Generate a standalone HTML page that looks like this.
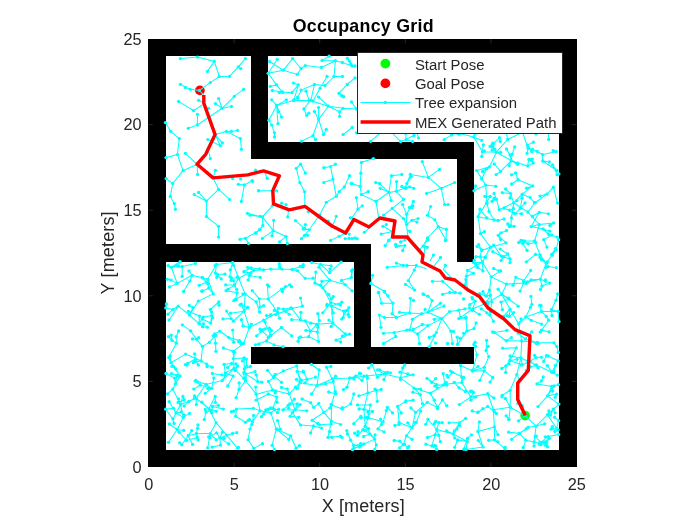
<!DOCTYPE html>
<html><head><meta charset="utf-8"><title>Occupancy Grid</title>
<style>html,body{margin:0;padding:0;background:#fff}svg{display:block;will-change:transform}text{font-family:"Liberation Sans",Arial,sans-serif;fill:#262626}</style>
</head><body>
<svg width="700" height="525" viewBox="0 0 700 525">
<rect width="700" height="525" fill="#fff"/>
<g fill="#000" shape-rendering="crispEdges">
<rect x="148" y="450" width="429" height="17"/>
<rect x="148" y="39" width="429" height="17"/>
<rect x="148" y="39" width="18" height="428"/>
<rect x="559" y="39" width="18" height="428"/>
<rect x="251" y="56" width="17" height="103"/>
<rect x="251" y="142" width="223" height="17"/>
<rect x="457" y="142" width="17" height="120"/>
<rect x="166" y="244" width="205" height="18"/>
<rect x="354" y="244" width="17" height="120"/>
<rect x="251" y="347" width="223" height="17"/>
</g>
<g stroke="#262626" stroke-width="1">
<line x1="234.10" y1="467.00" x2="234.10" y2="462.70"/>
<line x1="234.10" y1="39.00" x2="234.10" y2="43.30"/>
<line x1="148.50" y1="381.40" x2="152.80" y2="381.40"/>
<line x1="576.50" y1="381.40" x2="572.20" y2="381.40"/>
<line x1="319.70" y1="467.00" x2="319.70" y2="462.70"/>
<line x1="319.70" y1="39.00" x2="319.70" y2="43.30"/>
<line x1="148.50" y1="295.80" x2="152.80" y2="295.80"/>
<line x1="576.50" y1="295.80" x2="572.20" y2="295.80"/>
<line x1="405.30" y1="467.00" x2="405.30" y2="462.70"/>
<line x1="405.30" y1="39.00" x2="405.30" y2="43.30"/>
<line x1="148.50" y1="210.20" x2="152.80" y2="210.20"/>
<line x1="576.50" y1="210.20" x2="572.20" y2="210.20"/>
<line x1="490.90" y1="467.00" x2="490.90" y2="462.70"/>
<line x1="490.90" y1="39.00" x2="490.90" y2="43.30"/>
<line x1="148.50" y1="124.60" x2="152.80" y2="124.60"/>
<line x1="576.50" y1="124.60" x2="572.20" y2="124.60"/>
</g>
<circle cx="525.1" cy="415.6" r="4.85" fill="#00ff00"/>
<circle cx="199.9" cy="90.4" r="4.85" fill="#ff0000"/>
<path d="M525.1 415.6L510.3 407.2M510.3 407.2L493.4 409.8M493.4 409.8L487.7 393.7M487.7 393.7L470.9 397.0M493.4 409.8L494.4 426.9M470.9 397.0L461.8 382.6M461.8 382.6L460.6 365.5M525.1 415.6L536.1 426.1M461.8 382.6L444.8 384.2M444.8 384.2L430.4 393.2M430.4 393.2L414.1 388.2M414.1 388.2L400.5 377.8M400.5 377.8L383.8 374.1M383.8 374.1L366.8 375.9M494.4 426.9L477.9 431.5M510.3 407.2L510.2 390.3M366.8 375.9L349.8 377.9M349.8 377.9L332.7 378.8M510.2 390.3L516.8 374.6M332.7 378.8L317.0 385.5M317.0 385.5L300.1 382.7M516.8 374.6L520.8 358.0M300.1 382.7L296.7 365.9M536.1 426.1L547.4 414.9M300.1 382.7L289.2 393.9M520.8 358.0L521.7 340.9M521.7 340.9L518.7 324.0M289.2 393.9L272.7 390.0M518.7 324.0L510.1 309.2M510.1 309.2L501.7 294.3M501.7 294.3L506.6 284.2M506.6 284.2L491.2 276.9M491.2 276.9L482.4 262.2M536.1 426.1L534.1 442.0M272.7 390.0L256.2 394.2M482.4 262.2L490.5 247.2M490.5 247.2L480.5 233.6M256.2 394.2L245.6 380.7M525.1 415.6L522.2 405.6M506.6 284.2L523.7 283.0M534.1 442.0L534.0 446.1M480.5 233.6L478.1 216.7M289.2 393.9L295.0 409.8M482.4 262.2L467.5 270.4M366.8 375.9L367.8 393.0M478.1 216.7L486.9 202.0M534.1 442.0L525.8 440.2M486.9 202.0L485.7 185.1M295.0 409.8L283.0 409.9M245.6 380.7L234.0 368.4M234.0 368.4L222.3 380.5M234.0 368.4L233.2 351.3M245.6 380.7L246.0 374.1M233.2 351.3L243.6 343.5M501.7 294.3L487.9 302.6M243.6 343.5L249.4 327.5M249.4 327.5L244.1 311.2M234.0 368.4L235.0 369.8M244.1 311.2L245.2 294.1M485.7 185.1L476.7 170.6M296.7 365.9L283.3 371.0M245.2 294.1L238.7 278.3M234.0 368.4L225.3 373.0M238.7 278.3L232.6 262.5M256.2 394.2L260.1 410.8M476.7 170.6L489.4 166.9M523.7 283.0L540.3 279.2M232.6 262.5L216.4 264.5M489.4 166.9L496.5 152.2M216.4 264.5L207.8 279.3M486.9 202.0L490.3 196.4M496.5 152.2L507.6 139.5M238.7 278.3L253.7 270.5M260.1 410.8L270.9 413.1M270.9 413.1L276.3 429.1M496.5 152.2L482.4 151.8M238.7 278.3L234.5 285.1M540.3 279.2L546.2 263.3M490.5 247.2L506.0 242.9M518.7 324.0L525.8 317.0M222.3 380.5L206.1 384.4M206.1 384.4L196.1 398.2M207.8 279.3L213.3 293.9M332.7 378.8L335.3 391.4M276.3 429.1L288.8 439.4M196.1 398.2L208.9 408.8M547.4 414.9L556.8 428.5M196.1 398.2L180.5 404.4M367.8 393.0L363.9 409.3M363.9 409.3L365.2 426.4M335.3 391.4L331.4 405.0M208.9 408.8L216.1 422.7M482.4 151.8L473.8 137.0M180.5 404.4L172.9 419.0M430.4 393.2L437.6 407.5M520.8 358.0L522.3 364.8M477.9 431.5L483.1 447.1M507.6 139.5L522.4 132.2M473.8 137.0L457.2 133.1M213.3 293.9L198.3 301.1M260.1 410.8L252.5 421.8M520.8 358.0L536.4 365.0M249.4 327.5L263.6 320.2M260.1 410.8L253.3 408.3M522.4 132.2L528.2 148.2M521.7 340.9L506.2 340.8M349.8 377.9L347.0 387.2M496.5 152.2L491.7 146.0M457.2 133.1L444.1 122.6M216.1 422.7L226.6 435.2M444.1 122.6L428.3 116.1M522.4 132.2L535.4 121.0M428.3 116.1L430.8 99.6M245.2 294.1L242.9 294.1M283.3 371.0L274.2 376.1M180.5 404.4L183.3 417.4M428.3 116.1L414.5 125.8M483.1 447.1L466.1 449.4M460.6 365.5L472.5 371.0M414.5 125.8L401.5 114.8M295.0 409.8L300.1 404.6M367.8 393.0L376.4 390.3M535.4 121.0L529.6 116.6M263.6 320.2L270.8 335.5M535.4 121.0L552.4 122.5M487.9 302.6L472.9 308.8M365.2 426.4L374.6 439.1M466.1 449.4L467.4 441.6M467.4 441.6L453.2 434.0M270.8 335.5L266.5 341.0M536.4 365.0L551.9 372.2M246.0 374.1L244.3 369.0M207.8 279.3L192.1 275.3M295.0 409.8L297.3 404.0M430.8 99.6L428.5 87.4M401.5 114.8L385.0 114.0M300.1 382.7L301.3 380.2M172.9 419.0L165.7 409.2M385.0 114.0L368.7 109.5M180.5 404.4L172.8 389.1M491.7 146.0L494.8 149.3M263.6 320.2L277.8 312.5M172.8 389.1L180.0 376.0M331.4 405.0L331.4 421.2M552.4 122.5L555.4 106.9M365.2 426.4L368.2 417.7M506.2 340.8L511.4 337.6M546.2 263.3L556.1 249.7M444.8 384.2L443.2 373.7M216.4 264.5L215.4 273.1M546.2 263.3L540.1 254.9M414.5 125.8L418.6 138.1M266.5 341.0L255.4 344.8M525.8 317.0L541.5 311.4M473.8 137.0L477.0 121.1M183.3 417.4L177.2 429.5M529.6 116.6L536.7 102.6M535.4 121.0L534.9 126.9M540.1 254.9L534.6 241.0M541.5 311.4L558.0 311.3M534.1 442.0L540.9 442.3M522.3 364.8L509.8 360.7M473.8 137.0L481.8 140.4M216.1 422.7L210.2 433.6M485.7 185.1L474.0 190.8M277.8 312.5L275.9 314.6M180.0 376.0L171.0 362.7M541.5 311.4L539.7 305.4M192.1 275.3L177.1 283.4M507.6 139.5L505.9 130.2M472.9 308.8L458.9 318.6M275.9 314.6L291.7 308.4M232.6 262.5L230.4 270.0M506.2 340.8L494.3 332.4M428.5 87.4L427.9 74.0M453.2 434.0L436.7 429.5M496.5 152.2L511.3 160.7M536.7 102.6L523.7 106.2M525.8 440.2L519.3 433.3M547.4 414.9L558.9 404.1M540.9 442.3L535.3 436.5M180.0 376.0L171.5 373.7M291.7 308.4L300.5 320.0M171.0 362.7L185.6 354.1M374.6 439.1L376.3 444.9M206.1 384.4L211.6 388.5M437.6 407.5L427.3 402.4M427.9 74.0L433.9 59.6M477.0 121.1L481.1 104.5M522.3 364.8L530.1 361.2M552.4 122.5L547.6 123.4M436.7 429.5L431.9 445.9M400.5 377.8L400.5 379.6M198.3 301.1L189.4 315.0M558.0 311.3L551.4 309.7M361.5 96.1L366.2 79.7M183.3 417.4L176.0 412.9M491.2 276.9L489.5 290.0M189.4 315.0L178.2 306.2M234.5 285.1L228.0 289.3M185.6 354.1L201.1 361.0M331.4 421.2L323.8 412.4M368.2 417.7L370.3 405.0M244.1 311.2L233.4 321.2M243.6 343.5L239.5 340.6M477.9 431.5L479.4 421.9M534.6 241.0L522.1 240.7M427.3 402.4L415.6 412.5M556.8 428.5L551.2 429.2M201.1 361.0L202.5 346.4M551.4 309.7L552.0 315.4M470.9 397.0L475.9 396.9M478.1 216.7L494.1 220.0M210.2 433.6L207.7 447.8M192.1 275.3L189.8 281.1M470.9 397.0L473.5 392.5M494.4 426.9L494.5 439.8M428.5 87.4L411.5 86.3M244.1 311.2L247.7 307.4M300.5 320.0L317.0 324.3M213.3 293.9L208.7 288.2M226.6 435.2L219.8 437.9M180.0 376.0L174.5 378.1M534.6 241.0L539.3 224.6M374.6 439.1L360.8 445.8M539.3 224.6L527.8 212.0M427.9 74.0L413.5 66.1M288.8 439.4L290.5 435.8M215.4 273.1L221.2 278.9M253.7 270.5L270.8 269.1M489.5 290.0L491.8 301.8M482.4 151.8L481.8 156.5M277.8 312.5L268.3 299.1M255.4 344.8L258.8 344.2M245.2 294.1L235.5 299.3M477.0 121.1L480.6 124.7M415.6 412.5L411.9 427.8M233.4 321.2L231.0 318.6M317.0 324.3L310.6 331.2M297.3 404.0L289.8 404.0M494.8 149.3L492.8 143.1M458.9 318.6L465.9 317.2M558.9 404.1L547.5 395.9M411.5 86.3L394.5 84.7M411.9 427.8L399.1 422.5M374.6 439.1L369.6 434.1M376.4 390.3L381.2 389.5M177.1 283.4L169.5 287.0M431.9 445.9L436.7 449.4M383.8 374.1L377.5 369.8M481.1 104.5L487.0 88.5M490.5 247.2L493.7 245.2M536.4 365.0L530.4 366.9M467.4 441.6L457.6 440.0M368.2 417.7L361.2 417.8M527.8 212.0L513.7 202.8M400.5 377.8L402.7 367.9M317.0 324.3L332.8 323.0M235.5 299.3L237.1 292.7M317.0 385.5L311.5 394.0M541.5 311.4L546.3 316.5M331.4 405.0L342.3 409.0M239.5 340.6L228.4 337.3M494.3 332.4L506.9 330.4M401.5 114.8L405.7 119.5M444.1 122.6L440.4 127.4M208.9 408.8L215.2 396.4M189.4 315.0L199.0 323.7M483.1 447.1L478.3 440.6M366.2 79.7L377.8 78.3M385.0 114.0L383.5 130.0M467.5 270.4L473.5 273.3M366.2 79.7L368.0 86.8M470.9 397.0L459.4 404.6M436.7 429.5L438.8 422.6M522.4 132.2L530.1 132.2M539.3 224.6L553.6 222.9M323.8 412.4L329.9 408.1M385.0 114.0L384.9 121.3M216.4 264.5L215.1 265.6M201.1 361.0L195.5 358.8M467.5 270.4L465.9 279.6M332.8 323.0L331.4 306.0M360.8 445.8L353.6 445.4M177.1 283.4L171.3 267.3M547.4 414.9L550.4 415.0M472.5 371.0L484.2 370.8M472.5 371.0L476.9 354.8M226.6 435.2L237.6 448.3M208.9 408.8L211.7 412.8M178.2 306.2L169.0 320.1M413.5 66.1L406.8 71.8M523.7 106.2L519.3 93.0M487.0 88.5L497.2 74.8M201.1 361.0L206.6 364.1M497.2 74.8L508.3 62.5M472.5 371.0L484.3 367.3M428.5 87.4L432.7 91.2M376.3 444.9L374.8 449.5M317.0 324.3L317.8 327.2M208.7 288.2L202.4 290.9M171.0 362.7L168.7 357.6M436.7 429.5L438.8 435.3M540.3 279.2L531.2 279.8M457.2 133.1L451.5 135.1M490.5 247.2L481.8 250.6M332.7 378.8L335.6 376.2M365.2 426.4L362.8 429.9M295.0 409.8L292.4 412.6M237.6 448.3L238.4 447.4M206.6 364.1L212.0 367.2M491.8 301.8L489.8 315.0M268.3 299.1L281.7 289.1M253.7 270.5L250.8 273.2M485.7 185.1L495.8 186.3M411.9 427.8L406.5 435.8M202.5 346.4L209.3 342.4M513.7 202.8L511.4 217.9M493.4 409.8L494.3 411.6M496.5 152.2L500.5 152.5M511.4 217.9L510.9 226.0M292.4 412.6L300.7 425.1M171.3 267.3L182.2 266.5M383.8 374.1L385.4 372.6M199.0 323.7L203.1 317.2M547.5 395.9L554.0 386.0M453.2 434.0L446.6 430.8M329.9 408.1L331.2 404.4M453.2 434.0L459.3 422.8M493.7 245.2L501.5 256.3M539.3 224.6L531.2 226.6M368.2 417.7L367.9 411.8M480.5 233.6L484.3 231.7M484.3 367.3L488.8 356.6M444.8 384.2L446.9 385.0M536.7 102.6L546.7 106.4M244.1 311.2L241.3 304.2M519.3 93.0L521.8 88.6M210.2 433.6L196.4 433.4M211.6 388.5L200.2 385.0M547.5 395.9L551.8 386.5M547.6 123.4L548.7 139.4M246.0 374.1L257.8 381.7M501.7 294.3L508.9 299.0M368.7 109.5L368.1 107.8M384.9 121.3L390.2 131.0M494.8 149.3L493.0 144.2M252.5 421.8L250.0 429.1M436.7 429.5L427.9 419.5M390.2 131.0L400.7 141.7M385.0 114.0L389.8 100.2M225.3 373.0L233.1 375.9M508.3 62.5L524.5 57.0M272.7 390.0L268.5 381.5M427.9 74.0L429.7 84.1M270.9 413.1L274.5 409.6M195.5 358.8L185.5 364.7M199.0 323.7L199.5 316.1M535.4 121.0L530.6 118.7M511.3 160.7L527.6 165.9M453.2 434.0L454.7 437.9M534.9 126.9L536.0 133.8M513.7 202.8L499.3 209.7M349.8 377.9L355.8 376.2M290.5 435.8L277.1 429.2M332.8 323.0L345.3 334.0M189.8 281.1L183.6 291.5M274.5 409.6L270.5 408.0M331.4 421.2L328.0 437.3M250.8 273.2L249.4 275.5M368.2 417.7L383.1 421.8M509.8 360.7L506.0 365.8M291.7 308.4L285.8 311.4M522.1 240.7L518.7 242.5M521.7 340.9L537.3 342.4M377.8 78.3L376.5 61.5M529.6 116.6L530.2 120.3M482.4 262.2L473.6 262.7M400.5 377.8L413.2 374.8M244.3 369.0L244.1 358.0M270.8 335.5L281.5 327.5M353.6 445.4L350.6 440.2M177.2 429.5L168.5 442.3M487.9 302.6L490.5 311.7M501.5 256.3L510.1 259.0M183.3 417.4L189.5 413.4M317.0 385.5L319.1 370.0M513.7 202.8L522.2 194.2M546.2 263.3L546.1 267.3M368.7 109.5L360.1 124.2M345.3 334.0L349.5 334.2M490.3 196.4L484.9 196.4M522.4 132.2L525.3 127.8M250.8 273.2L243.9 271.7M551.8 386.5L552.7 391.0M176.0 412.9L169.2 401.7M429.7 84.1L423.8 88.8M171.3 267.3L180.1 261.7M536.1 426.1L528.1 427.3M289.2 393.9L287.2 388.9M546.3 316.5L548.7 320.2M292.4 412.6L290.2 416.3M168.7 357.6L176.4 343.2M276.3 429.1L272.1 445.3M431.9 445.9L434.5 445.7M522.2 194.2L522.0 198.2M494.1 220.0L497.9 220.5M277.8 312.5L274.4 310.4M301.3 380.2L297.2 371.4M369.6 434.1L365.2 430.5M494.5 439.8L488.7 440.3M488.8 356.6L486.1 350.6M266.5 341.0L268.4 337.2M511.3 160.7L500.6 171.4M453.2 434.0L454.4 431.0M376.5 61.5L390.0 57.0M376.4 390.3L374.9 389.1M547.5 395.9L556.7 394.1M295.0 409.8L306.7 410.8M481.1 104.5L496.9 104.2M257.8 381.7L256.3 374.9M199.0 323.7L202.6 326.7M531.2 226.6L543.1 229.0M506.0 242.9L498.3 235.3M253.3 408.3L236.4 409.1M518.7 242.5L522.9 243.4M328.0 437.3L340.3 436.2M489.5 290.0L486.2 296.2M522.2 194.2L532.7 185.9M203.1 317.2L211.8 315.6M355.8 376.2L360.7 373.6M236.4 409.1L233.6 411.2M414.5 125.8L405.6 133.2M428.3 116.1L429.4 120.4M510.3 407.2L505.3 398.5M399.1 422.5L397.6 406.4M196.4 433.4L197.6 428.4M244.1 311.2L230.5 313.2M342.3 409.0L342.4 407.6M528.2 148.2L532.6 149.3M509.8 360.7L516.3 347.8M171.3 267.3L168.1 265.6M233.6 411.2L231.4 411.7M397.6 406.4L405.4 401.8M211.7 412.8L212.5 406.5M555.4 106.9L558.0 94.3M244.1 358.0L233.4 358.6M525.3 127.8L520.8 122.2M487.0 88.5L479.6 75.8M177.2 429.5L186.3 440.5M482.4 262.2L480.2 256.8M406.5 435.8L403.2 444.7M465.9 317.2L466.9 330.9M527.6 165.9L533.2 163.0M537.3 342.4L536.4 343.6M310.6 331.2L305.3 321.0M497.9 220.5L504.0 219.0M550.4 415.0L553.3 409.1M531.2 226.6L539.3 212.3M331.4 306.0L330.8 302.4M540.3 279.2L545.8 281.3M481.8 250.6L478.7 244.7M497.2 74.8L495.6 72.9M237.1 292.7L226.1 290.7M383.5 130.0L370.6 141.3M543.1 229.0L548.7 234.4M182.2 266.5L195.4 263.4M487.0 88.5L488.6 88.4M268.3 299.1L267.4 284.8M197.6 428.4L197.9 424.9M511.3 160.7L517.6 163.1M474.0 190.8L475.6 186.0M268.4 337.2L260.1 329.2M243.9 271.7L251.1 267.8M509.8 360.7L517.1 359.3M540.3 279.2L542.0 286.0M266.5 341.0L274.0 344.9M489.8 315.0L486.8 312.8M466.9 330.9L457.5 344.4M281.5 327.5L291.7 335.8M363.9 409.3L359.1 409.0M542.0 286.0L549.5 283.1M340.3 436.2L342.0 437.4M177.1 283.4L171.0 280.1M461.8 382.6L463.7 377.5M489.4 166.9L486.7 168.7M427.9 74.0L436.1 72.3M498.3 235.3L500.6 239.6M438.8 422.6L435.7 421.4M540.9 442.3L548.0 436.6M486.8 312.8L481.4 308.9M431.9 445.9L426.0 444.2M323.8 412.4L312.2 420.3M330.8 302.4L322.8 287.8M501.5 256.3L492.8 251.7M540.9 442.3L544.6 442.1M513.7 202.8L513.5 208.7M362.8 429.9L357.6 435.4M528.2 148.2L527.1 153.3M289.8 404.0L294.3 399.2M413.2 374.8L407.8 374.0M548.0 436.6L558.7 434.4M291.7 308.4L302.4 306.2M508.9 299.0L518.1 306.2M310.6 331.2L308.7 336.7M405.7 119.5L403.4 111.8M322.8 287.8L329.8 280.2M178.2 306.2L172.9 309.6M499.3 209.7L496.4 199.2M308.7 336.7L318.5 341.4M329.8 280.2L319.0 267.2M300.5 320.0L291.7 319.7M532.7 185.9L518.0 179.7M457.5 344.4L457.1 337.1M208.9 408.8L201.9 402.2M195.5 358.8L194.7 354.0M383.1 421.8L378.0 428.9M377.8 78.3L378.2 78.8M357.6 435.4L354.7 433.2M532.7 185.9L526.6 188.2M403.4 111.8L412.2 117.7M215.4 273.1L217.6 274.4M459.3 422.8L459.6 425.5M510.2 390.3L502.2 395.4M506.0 365.8L505.7 372.4M202.5 346.4L196.6 339.3M516.8 374.6L519.8 379.9M323.8 412.4L318.8 403.5M547.6 123.4L548.4 122.5M353.6 445.4L363.8 443.9M533.2 163.0L531.2 160.3M518.7 324.0L521.1 319.0M478.1 216.7L480.0 209.2M201.9 402.2L194.3 398.1M274.5 409.6L278.7 409.4M463.7 377.5L452.6 372.3M329.8 280.2L345.4 284.8M537.3 342.4L553.9 342.8M551.9 372.2L558.1 360.8M431.9 445.9L435.7 446.0M355.8 376.2L362.1 380.6M252.5 421.8L251.7 424.6M383.1 421.8L381.6 424.3M494.1 220.0L489.0 211.6M473.5 273.3L466.5 276.2M496.9 104.2L497.0 117.2M528.2 148.2L527.4 145.1M319.0 267.2L320.7 264.4M551.4 309.7L555.9 300.4M494.5 439.8L504.8 448.7M368.1 107.8L364.3 99.9M481.1 104.5L480.4 101.8M363.9 409.3L372.5 411.4M357.6 435.4L357.9 431.7M275.9 314.6L278.4 308.5M558.1 360.8L548.1 356.0M180.5 404.4L182.9 396.4M405.4 401.8L406.0 400.9M385.4 372.6L377.4 377.3M349.5 334.2L336.1 340.2M360.8 445.8L353.9 448.2M522.0 198.2L520.4 208.4M312.2 420.3L319.5 424.8M318.5 341.4L317.4 331.9M551.9 372.2L557.3 375.1M495.6 72.9L502.1 69.5M320.7 264.4L311.7 262.6M317.0 385.5L325.6 383.7M389.8 100.2L390.3 104.2M300.1 382.7L297.3 388.7M436.1 72.3L445.2 76.7M332.8 323.0L331.1 326.5M360.8 445.8L360.6 443.6M320.7 264.4L329.7 272.7M234.0 368.4L237.7 365.9M176.4 343.2L176.2 336.7M385.4 372.6L379.6 369.8M494.4 426.9L497.9 434.7M196.4 433.4L188.2 435.7M536.7 102.6L527.8 96.7M267.4 284.8L268.8 286.3M260.1 329.2L262.9 330.1M300.7 425.1L313.5 425.9M353.9 448.2L352.5 449.7M249.4 327.5L243.1 326.0M231.0 318.6L223.0 318.9M329.7 272.7L341.2 262.1M270.8 269.1L281.9 269.1M206.1 384.4L195.9 380.5M222.3 380.5L225.3 375.4M445.2 76.7L440.5 84.2M186.3 440.5L197.2 437.5M206.6 364.1L207.1 366.6M172.9 309.6L165.8 307.9M486.2 296.2L483.0 291.7M496.4 199.2L494.1 193.5M281.9 269.1L292.0 269.5M459.3 422.8L465.6 418.5M558.0 311.3L559.0 321.6M529.6 116.6L524.2 112.2M406.8 71.8L398.6 64.0M479.6 75.8L464.0 82.8M476.9 354.8L473.9 344.5M250.0 429.1L248.1 439.8M360.1 124.2L366.0 122.5M209.3 342.4L215.8 335.4M244.3 369.0L243.8 373.0M225.3 373.0L224.1 364.3M484.2 370.8L479.8 380.3M281.9 269.1L279.6 267.1M464.0 82.8L466.4 81.6M207.8 279.3L206.6 282.3M360.6 443.6L359.2 447.0M189.4 315.0L192.9 307.6M500.6 171.4L494.3 164.0M540.9 442.3L545.9 441.9M283.0 409.9L288.3 405.3M553.9 342.8L556.8 346.4M497.2 74.8L509.0 79.9M496.5 152.2L492.2 146.2M383.1 421.8L387.4 407.3M452.6 372.3L450.5 371.1M228.4 337.3L219.8 331.2M542.0 286.0L540.5 289.5M174.5 378.1L175.5 383.8M427.9 419.5L425.8 424.3M328.0 437.3L329.6 431.5M211.8 315.6L210.6 323.1M369.6 434.1L363.6 436.5M234.5 285.1L225.7 284.9M451.5 135.1L444.2 139.6M253.7 270.5L247.6 267.3M513.5 208.7L509.6 210.1M219.8 437.9L220.5 445.2M208.9 408.8L216.2 411.3M274.5 409.6L273.0 408.1M558.0 94.3L556.6 79.4M536.4 343.6L525.4 339.0M482.4 151.8L484.3 151.0M510.9 226.0L507.8 224.0M428.3 116.1L425.3 116.8M430.4 393.2L434.4 400.2M245.2 294.1L256.3 302.0M172.8 389.1L167.5 393.8M532.6 149.3L542.6 154.6M444.1 122.6L456.8 113.2M522.3 364.8L521.1 365.0M527.8 212.0L535.1 202.7M414.5 125.8L416.4 122.8M239.5 340.6L238.5 341.5M519.3 433.3L511.6 439.3M180.0 376.0L175.8 369.0M496.4 199.2L492.0 201.3M473.9 344.5L475.1 342.2M331.4 306.0L327.1 304.3M519.3 93.0L515.3 88.8M292.0 269.5L300.4 266.5M270.5 408.0L265.8 410.0M530.1 361.2L538.0 367.9M508.3 62.5L518.8 67.1M472.9 308.8L475.2 301.1M451.5 135.1L453.1 123.6M551.2 429.2L552.3 426.6M329.7 272.7L330.0 269.0M479.6 75.8L484.4 76.5M252.5 421.8L249.5 419.6M556.6 79.4L549.1 65.3M331.4 306.0L343.8 311.2M530.4 366.9L526.3 370.4M228.4 337.3L233.8 342.2M555.9 300.4L557.7 294.0M394.5 84.7L390.6 83.7M210.6 323.1L212.7 317.7M215.2 396.4L215.4 402.4M206.6 282.3L199.2 285.3M415.6 412.5L410.9 408.0M518.0 179.7L515.6 173.0M423.8 88.8L411.6 87.7M486.2 296.2L490.4 295.1M329.8 280.2L321.9 281.3M260.1 329.2L265.2 328.8M527.4 145.1L528.1 147.2M542.6 154.6L542.8 161.0M350.6 440.2L346.8 430.6M236.4 409.1L235.7 416.2M502.2 395.4L502.0 396.9M257.8 381.7L261.8 382.2M548.0 436.6L547.6 446.9M525.8 317.0L531.8 304.5M511.3 160.7L512.0 154.4M508.3 62.5L507.6 58.3M522.1 240.7L524.6 241.0M278.4 308.5L283.4 309.2M411.9 427.8L416.3 422.3M219.8 331.2L214.7 333.9M414.1 388.2L420.3 394.7M511.3 160.7L517.4 164.3M531.2 160.3L529.9 159.7M510.3 407.2L508.9 419.2M202.6 326.7L207.4 327.2M546.1 267.3L548.0 266.4M176.4 343.2L172.0 340.4M502.1 69.5L492.5 56.8M300.1 382.7L296.5 379.5M480.6 124.7L482.7 123.6M440.4 127.4L438.1 123.1M437.6 407.5L442.4 400.0M527.8 96.7L524.7 93.6M522.2 194.2L530.1 197.6M490.4 295.1L486.9 301.8M234.5 285.1L233.5 280.6M245.6 380.7L239.0 389.6M268.3 299.1L259.3 298.8M390.3 104.2L383.7 98.5M536.7 102.6L543.9 104.5M465.9 279.6L467.9 289.8M172.0 340.4L168.5 336.7M480.2 256.8L485.3 257.2M551.8 386.5L537.0 383.9M524.2 112.2L512.9 112.6M510.1 259.0L507.7 254.0M486.2 296.2L479.6 293.7M272.7 390.0L275.6 390.8M548.1 356.0L546.4 355.7M498.3 235.3L501.0 232.9M497.0 117.2L503.9 117.0M199.5 316.1L188.4 311.3M273.0 408.1L276.8 397.1M202.4 290.9L201.7 291.2M548.7 320.2L541.6 330.1M510.1 259.0L510.0 262.6M552.3 426.6L554.8 431.6M510.1 309.2L509.2 316.3M383.7 98.5L385.0 104.1M501.7 294.3L498.1 289.2M318.8 403.5L313.7 407.3M247.7 307.4L240.1 305.0M276.8 397.1L268.3 394.0M522.2 405.6L517.9 403.4M446.9 385.0L443.7 385.0M497.0 117.2L495.5 126.7M343.8 311.2L346.6 310.5M500.6 171.4L496.2 174.6M492.5 56.8L499.0 57.6M211.8 315.6L210.3 309.5M444.8 384.2L434.7 386.1M399.1 422.5L399.0 424.4M420.3 394.7L422.5 403.8M211.8 315.6L211.6 312.0M243.8 373.0L244.0 378.5M301.3 380.2L307.1 379.2M536.1 426.1L544.7 423.8M482.4 262.2L482.9 270.9M480.2 256.8L481.6 249.9M283.4 309.2L291.1 307.8M332.8 323.0L328.9 320.1M268.4 337.2L271.3 330.4M513.7 202.8L510.6 193.6M317.0 324.3L310.8 323.2M414.1 388.2L420.6 389.1M405.6 133.2L406.1 139.8M484.2 370.8L492.8 377.5M510.6 193.6L510.1 198.0M508.3 62.5L507.5 64.6M556.1 249.7L558.6 239.7M548.7 234.4L551.8 235.1M256.3 302.0L259.6 312.0M549.1 65.3L541.4 69.0M507.6 58.3L506.4 57.2M524.5 57.0L518.1 57.3M172.9 419.0L174.1 423.4M220.5 445.2L212.1 447.1M403.2 444.7L404.5 444.3M442.4 400.0L446.8 405.7M492.0 201.3L494.1 198.4M463.7 377.5L461.7 376.9M219.8 437.9L216.7 432.8M525.4 339.0L518.1 333.2M519.8 379.9L517.6 386.3M411.5 86.3L414.3 86.9M336.1 340.2L340.7 342.0M544.6 442.1L545.1 443.2M542.8 161.0L556.8 170.5M406.1 139.8L412.7 141.6M523.7 283.0L526.1 283.4M412.2 117.7L413.8 104.2M360.1 124.2L359.8 129.9M381.6 424.3L380.6 419.1M518.0 179.7L511.6 184.0M542.6 154.6L537.2 151.3M520.4 208.4L525.0 203.0M553.3 409.1L555.2 412.8M535.1 202.7L547.0 194.1M486.7 168.7L481.6 179.1M473.5 392.5L465.4 391.5M406.0 400.9L413.1 400.2M507.6 58.3L511.9 62.5M494.3 332.4L492.6 331.9M407.8 374.0L400.0 372.2M215.8 335.4L213.3 335.6M174.5 378.1L166.0 373.5M219.8 437.9L228.7 443.9M547.5 395.9L538.0 406.6M509.0 79.9L508.1 75.6M171.0 362.7L170.0 356.2M317.4 331.9L319.3 320.4M524.5 57.0L533.2 57.5M486.7 168.7L482.7 171.4M319.5 424.8L331.1 423.9M297.3 388.7L295.4 387.1M520.8 358.0L510.1 355.9M453.1 123.6L457.4 116.9M549.1 65.3L553.7 58.9M531.8 304.5L530.9 296.5M180.1 261.7L178.4 266.2M175.5 383.8L176.8 375.3M403.2 444.7L399.5 448.0M472.5 371.0L472.7 370.1M342.3 409.0L350.7 403.9M281.7 289.1L285.5 286.6M556.1 249.7L555.3 248.7M542.6 154.6L556.1 151.7M549.1 65.3L547.7 70.4M475.9 396.9L470.8 400.2M520.4 208.4L515.2 213.6M330.8 302.4L322.8 312.8M464.0 82.8L457.5 88.1M361.2 417.8L360.8 416.3M237.7 365.9L235.8 363.9M413.5 66.1L406.7 61.4M531.2 279.8L527.5 282.0M497.2 74.8L495.8 74.2M308.7 336.7L298.9 337.9M443.7 385.0L436.6 384.7M188.2 435.7L192.6 444.4M509.0 79.9L520.3 73.4M322.8 287.8L314.9 283.0M494.3 411.6L487.7 406.4M452.6 372.3L448.1 377.2M226.6 435.2L232.6 433.5M510.6 193.6L502.3 192.7M541.6 330.1L549.1 332.0M508.9 299.0L501.0 302.1M238.7 278.3L237.3 276.8M437.6 407.5L437.4 408.8M530.1 361.2L535.9 357.6M368.7 109.5L365.0 117.2M244.3 369.0L246.8 366.2M436.6 384.7L426.9 378.3M366.0 122.5L366.6 125.0M201.1 361.0L193.4 362.6M528.1 147.2L531.8 151.7M297.2 371.4L303.4 372.2M488.6 88.4L480.8 86.7M546.4 355.7L543.7 361.4M196.1 398.2L188.7 401.5M328.0 437.3L331.8 437.3M556.1 151.7L553.2 150.6M543.9 104.5L537.2 100.6M403.4 111.8L405.3 101.1M274.5 409.6L277.5 412.6M233.4 358.6L234.6 352.3M281.7 289.1L289.7 284.8M208.9 408.8L210.2 410.6M238.7 278.3L231.3 277.8M429.4 120.4L428.3 126.2M465.4 391.5L459.0 387.8M292.0 269.5L297.4 270.7M480.4 101.8L473.1 104.8M394.5 84.7L392.8 75.4M496.9 104.2L505.2 96.9M531.8 304.5L530.4 307.4M345.4 284.8L341.5 280.5M539.3 212.3L532.4 216.5M298.9 337.9L300.6 336.9M370.3 405.0L357.5 404.9M374.6 439.1L375.1 434.9M185.5 364.7L187.6 363.5M519.3 433.3L526.2 429.0M497.0 117.2L497.7 118.5M507.7 254.0L503.5 256.7M331.4 306.0L341.9 302.2M537.0 383.9L541.4 381.0M547.0 194.1L553.4 187.2M522.1 240.7L528.1 243.7M335.3 391.4L335.8 393.8M555.3 248.7L551.7 254.4M552.4 122.5L555.6 124.1M487.7 406.4L477.7 412.4M259.3 298.8L252.3 290.7M537.3 342.4L538.0 343.2M535.9 357.6L541.4 357.3M225.3 375.4L221.8 374.9M188.2 435.7L191.7 430.6M495.5 126.7L497.2 124.8M486.1 350.6L488.2 346.3M274.0 344.9L283.1 346.7M556.8 346.4L558.2 352.4M234.5 285.1L236.8 289.5M403.4 111.8L401.6 106.5M515.2 213.6L521.5 213.7M206.6 282.3L202.7 277.9M492.8 377.5L490.1 382.1M524.7 93.6L530.3 89.5M313.7 407.3L310.6 402.7M272.7 390.0L275.2 393.0M397.6 406.4L401.3 413.0M543.9 104.5L543.4 99.5M313.5 425.9L321.6 428.1M504.8 448.7L505.3 447.5M290.5 435.8L296.1 448.2M341.5 280.5L351.4 277.4M479.6 75.8L473.3 60.4M527.4 145.1L533.4 142.2M196.4 433.4L198.1 440.0M313.5 425.9L310.6 432.9M200.2 385.0L193.8 389.1M548.7 234.4L557.1 237.1M239.5 340.6L240.8 343.7M508.1 75.6L513.9 80.7M385.0 104.1L379.5 110.2M457.2 133.1L459.0 134.3M188.7 401.5L184.2 406.0M364.3 99.9L373.3 96.2M325.6 383.7L333.3 381.6M333.3 381.6L326.6 367.2M467.4 441.6L467.5 438.4M349.8 377.9L354.0 379.1M319.1 370.0L311.4 364.5M467.5 438.4L471.5 434.8M373.3 96.2L373.6 88.3M196.6 339.3L192.5 339.0M457.4 116.9L463.7 116.0M237.7 365.9L235.1 370.5M274.5 409.6L268.0 409.5M317.4 331.9L306.0 330.3M403.2 444.7L399.8 441.2M457.5 88.1L457.5 100.2M525.4 339.0L531.7 332.0M365.2 426.4L368.7 428.7M307.1 379.2L315.4 377.2M217.6 274.4L225.0 274.1M503.5 256.7L501.1 260.4M522.4 132.2L514.8 129.8M210.3 309.5L218.8 302.0M430.8 99.6L441.6 102.6M319.3 320.4L317.8 313.7M466.9 330.9L474.0 328.6M511.3 160.7L510.0 154.9M200.2 385.0L197.7 382.1M196.6 339.3L190.6 330.9M346.8 430.6L347.4 434.0M556.8 170.5L552.6 164.8M420.3 394.7L412.9 392.2M543.4 99.5L544.4 87.0M347.0 387.2L343.4 389.6M515.6 173.0L511.5 174.8M314.9 283.0L320.8 284.9M210.6 323.1L202.1 319.1M400.7 141.7L414.0 135.5M310.6 402.7L302.1 399.0M556.7 394.1L555.3 397.3M508.9 419.2L506.2 415.8M457.6 440.0L454.7 447.3M425.3 116.8L425.7 114.9M390.6 83.7L394.7 81.8M192.1 275.3L189.0 271.0M542.8 161.0L549.3 161.8M480.0 209.2L486.8 218.0M553.6 222.9L549.9 225.5M551.8 235.1L543.7 239.6M346.6 310.5L341.7 319.1M216.7 432.8L208.7 436.9M235.5 299.3L236.3 299.6M233.1 375.9L227.7 386.0M540.1 254.9L535.5 254.4M475.2 301.1L472.0 297.3M457.5 100.2L446.7 100.7M244.0 378.5L245.3 377.7M182.9 396.4L184.2 399.8M472.9 308.8L472.4 310.3M545.9 441.9L545.7 445.4M525.8 440.2L523.3 447.5M195.5 358.8L198.3 365.0M244.3 369.0L250.4 366.5M214.7 333.9L215.5 343.2M525.8 317.0L531.2 320.3M256.2 394.2L255.7 387.1M239.0 389.6L239.2 383.0M346.6 310.5L348.9 307.7M289.7 284.8L291.4 286.7M251.1 267.8L259.5 268.9M473.8 137.0L477.0 130.8M277.1 429.2L280.4 429.5M300.5 320.0L300.9 312.3M224.1 364.3L231.7 363.5M458.9 318.6L465.9 318.1M556.8 428.5L558.6 420.6M484.4 76.5L486.5 70.0M377.4 377.3L372.0 364.6M552.6 164.8L557.1 174.7M508.1 75.6L505.6 74.1M493.0 144.2L499.5 137.7M529.9 159.7L529.7 159.6M501.0 232.9L506.6 230.5M413.5 66.1L413.2 58.9M248.1 439.8L253.8 448.4M259.5 268.9L263.4 269.8M275.9 314.6L270.6 314.7M512.0 154.4L514.7 146.8M544.6 442.1L549.2 438.5M195.5 358.8L194.9 361.4M399.8 441.2L394.2 440.5M239.0 389.6L236.1 397.7M511.9 62.5L514.0 62.8M509.0 79.9L511.9 85.0M411.9 427.8L407.7 422.8M507.7 254.0L500.2 249.1M172.9 309.6L168.0 314.2M482.9 270.9L477.5 267.3M508.1 75.6L513.1 72.0M171.0 362.7L174.0 366.8M279.6 267.1L279.3 264.0M385.4 372.6L390.4 372.8M473.5 392.5L471.9 391.1M383.7 98.5L378.4 99.7M350.7 403.9L353.8 394.0M385.0 114.0L384.3 114.2M390.4 372.8L387.6 372.4M211.6 388.5L213.8 378.0M183.3 417.4L184.1 414.9M276.8 397.1L277.0 402.3M210.2 433.6L216.3 439.9M416.3 422.3L414.8 422.6M510.6 193.6L505.6 189.0M535.9 357.6L534.6 355.4M326.6 367.2L330.9 366.5M287.2 388.9L281.5 387.5M268.0 409.5L263.5 413.9M314.9 283.0L315.8 272.1M360.7 373.6L359.5 373.1M376.4 390.3L377.3 401.3M322.8 287.8L328.7 294.5M232.6 262.5L233.5 265.3M298.9 337.9L298.1 341.3M496.9 104.2L498.2 108.7M557.1 174.7L558.9 173.9M523.7 283.0L520.1 291.1M182.2 266.5L182.2 276.4M480.2 256.8L476.1 256.6M445.2 76.7L451.2 83.0M487.7 393.7L493.9 398.0M288.3 405.3L288.6 408.2M543.1 229.0L549.7 231.2M373.6 88.3L373.1 85.4M491.2 276.9L500.6 270.9M519.3 433.3L508.7 432.2M510.9 226.0L514.2 226.3M208.7 436.9L210.0 437.7M398.6 64.0L384.0 58.5M506.0 365.8L501.8 368.5M522.1 240.7L520.9 240.5M351.4 277.4L352.7 269.7M509.0 79.9L515.8 82.4M486.5 70.0L483.5 73.9M545.8 281.3L545.4 279.8M481.1 104.5L484.1 110.2M535.5 254.4L526.3 261.9M436.7 429.5L435.3 434.6M345.3 334.0L342.4 336.1M246.0 374.1L255.0 371.6M427.9 74.0L425.0 64.6M438.8 435.3L440.3 441.7M211.6 388.5L207.9 388.5M233.8 342.2L232.7 330.1M249.4 275.5L260.2 277.4M467.9 289.8L462.5 285.2M554.0 386.0L558.4 384.6M401.6 106.5L397.9 95.3M548.0 436.6L545.3 436.8M360.1 124.2L369.4 126.2M423.8 88.8L419.5 85.4M259.3 298.8L260.1 307.0M265.8 410.0L261.5 416.7M474.0 328.6L476.1 323.0M366.8 375.9L367.5 378.1M171.3 267.3L176.6 265.3M473.3 60.4L462.2 63.2M184.2 399.8L178.1 402.4M436.1 72.3L430.7 75.3M263.6 320.2L265.1 322.0M404.5 444.3L407.6 448.1M328.7 294.5L331.4 299.1M249.4 327.5L251.3 324.1M477.7 412.4L472.3 410.9M459.3 422.8L449.1 422.8M459.0 134.3L465.7 129.8M543.7 239.6L546.9 247.1M285.5 286.6L282.4 291.6M280.4 429.5L277.6 420.6M196.6 339.3L198.7 337.6M176.0 412.9L181.3 411.9M407.6 448.1L408.7 446.5M472.4 310.3L469.4 307.8M174.0 366.8L171.9 366.3M481.6 249.9L477.1 246.4M505.6 74.1L499.4 72.2M444.8 384.2L446.2 382.3M531.2 320.3L541.5 324.1M210.2 410.6L206.1 412.0M539.7 305.4L541.1 305.7M165.8 307.9L166.4 304.0M233.2 351.3L223.4 347.9M435.3 434.6L427.5 437.4M467.5 438.4L463.8 449.2M436.1 72.3L432.7 77.0M459.0 387.8L454.3 382.3M385.0 104.1L392.0 104.9M558.6 420.6L554.6 417.2M253.8 448.4L262.5 443.7M177.2 429.5L169.3 424.0M307.1 379.2L303.2 371.1M235.7 416.2L245.4 422.3M246.8 366.2L246.3 359.1M495.5 126.7L487.4 127.3M192.9 307.6L189.3 305.3M335.8 393.8L328.7 392.0M425.7 114.9L430.1 121.3M462.2 63.2L460.8 62.8M501.7 294.3L508.4 298.2M268.5 381.5L273.6 377.6M190.6 330.9L182.4 324.9M527.6 165.9L528.8 159.6M477.5 267.3L475.7 263.9M180.5 404.4L178.5 398.9M515.2 213.6L513.5 213.1M212.5 406.5L223.3 409.1M215.4 273.1L216.8 277.3M547.0 194.1L540.0 196.1M436.1 72.3L436.4 63.0M513.7 202.8L516.9 200.6M539.3 212.3L548.4 213.8M177.2 429.5L183.8 430.4M297.4 270.7L305.1 278.3M300.4 266.5L303.2 264.7M477.7 412.4L478.3 412.1M171.0 280.1L167.4 279.3M503.9 117.0L503.9 114.4M218.8 302.0L219.0 305.2M426.9 378.3L431.7 382.4M548.0 266.4L556.3 267.7M196.1 398.2L196.4 404.6M537.3 342.4L530.6 340.7M387.4 407.3L392.5 412.9M188.2 435.7L181.7 444.8M459.3 422.8L456.9 429.0M514.2 226.3L509.3 226.6M558.1 360.8L555.5 365.4M491.7 146.0L492.2 150.2M273.6 377.6L267.6 370.4M385.0 114.0L382.9 115.6M471.9 391.1L470.5 391.2M272.1 445.3L274.4 449.5M244.1 358.0L242.6 360.9M448.1 377.2L447.0 375.4M478.3 412.1L482.8 408.7M482.4 151.8L483.3 145.0M181.7 444.8L179.7 442.8M320.7 264.4L331.2 265.8M527.5 282.0L515.8 277.3M243.1 326.0L241.4 319.7M378.0 428.9L384.0 431.9M290.2 416.3L298.8 417.3M489.0 211.6L487.0 203.3M535.3 436.5L536.3 436.2M551.9 372.2L547.4 365.6M231.3 277.8L231.1 280.4M274.2 376.1L281.6 382.4M202.7 277.9L202.1 277.5M555.5 365.4L553.8 372.3M547.4 414.9L548.9 411.0M500.6 270.9L499.0 270.9M401.5 114.8L396.2 120.6M305.1 278.3L313.1 278.2M206.1 412.0L205.3 409.5M416.3 422.3L420.6 411.1M270.6 314.7L270.3 315.6M387.4 407.3L386.4 410.5M546.2 263.3L541.4 259.5M451.2 83.0L449.0 83.8M477.0 130.8L476.6 132.9M208.7 288.2L207.9 283.9M211.6 388.5L205.3 393.3M268.3 394.0L256.1 400.2M245.4 422.3L248.3 420.4M274.2 376.1L275.3 374.4M529.9 159.7L532.3 159.1M399.0 424.4L394.9 425.4M232.6 433.5L236.8 432.7M435.7 421.4L434.3 423.7M260.1 307.0L263.6 305.7M453.1 123.6L447.4 120.5M231.0 318.6L226.7 311.1M271.3 330.4L269.4 328.2M270.3 315.6L266.6 315.6M522.9 243.4L527.0 250.5M510.1 309.2L503.5 316.3M212.5 406.5L218.3 405.3M509.2 316.3L507.2 315.7M554.8 431.6L558.1 430.0M509.2 316.3L513.7 312.6M307.1 379.2L305.1 382.9M430.8 99.6L430.8 106.7M345.4 284.8L352.1 290.8M526.1 283.4L523.4 281.0M516.3 347.8L502.6 348.2M367.8 393.0L358.9 395.9M231.7 363.5L227.6 367.6M463.7 116.0L464.0 107.7M522.2 405.6L522.2 406.6M523.7 106.2L526.7 107.9M489.8 315.0L493.4 321.3M464.0 82.8L463.9 72.8M541.6 330.1L540.2 332.1M176.2 336.7L178.6 331.0M520.8 122.2L517.9 124.2M463.7 116.0L464.3 125.0M457.1 337.1L460.2 338.4M277.8 312.5L279.6 318.2M348.9 307.7L348.2 314.4M486.5 70.0L482.9 66.8M520.3 73.4L519.1 68.8M541.4 381.0L543.2 377.0M252.5 421.8L253.6 415.4M486.1 350.6L486.6 340.5M501.0 302.1L502.4 309.7M534.9 126.9L529.7 126.8M317.0 385.5L317.0 385.5M262.9 330.1L256.7 335.9M530.1 197.6L534.6 202.6M508.9 419.2L508.8 419.4M438.8 422.6L442.2 422.7M187.6 363.5L186.9 365.0M206.1 412.0L204.3 419.4M387.6 372.4L383.9 379.5M472.4 310.3L479.4 314.3M472.0 297.3L472.4 298.9M493.4 409.8L496.5 413.7M369.4 126.2L363.5 131.6M219.8 437.9L222.4 432.2M348.2 314.4L349.1 316.8M546.2 263.3L547.3 262.0M431.7 382.4L435.7 378.7M505.9 130.2L513.0 131.9M331.4 299.1L333.2 296.7M473.9 344.5L475.8 346.4M165.7 409.2L173.6 408.3M499.0 270.9L493.6 268.5M511.3 160.7L509.2 165.6M499.5 137.7L500.2 141.4M412.2 117.7L410.4 112.6M438.1 123.1L441.5 132.1M541.4 69.0L538.8 77.8M302.4 306.2L300.5 298.1M330.8 302.4L340.4 305.0M510.0 154.9L506.5 149.0M296.1 448.2L299.4 445.7M476.1 256.6L474.3 260.3M215.5 343.2L215.9 351.3M510.1 355.9L509.1 363.9M177.2 429.5L179.3 432.3M219.8 437.9L224.0 438.5M172.0 340.4L171.2 335.2M221.8 374.9L212.4 373.5M513.5 213.1L504.1 208.0M543.4 99.5L548.0 94.1M406.5 435.8L412.0 439.3M494.5 439.8L497.9 441.9M343.8 311.2L343.2 317.7M394.5 84.7L399.0 87.7M515.8 277.3L513.1 285.2M551.7 254.4L552.4 255.2M327.1 304.3L326.9 306.0M197.7 382.1L195.2 381.1M475.2 301.1L469.7 304.7M199.0 323.7L203.5 323.8M285.8 311.4L289.2 314.3M553.4 187.2L557.5 203.1M250.8 273.2L248.2 279.9M525.1 415.6L518.6 420.9M351.4 277.4L351.5 271.0M362.1 380.6L363.9 376.2M331.4 306.0L333.2 313.0M196.1 398.2L194.6 395.9M528.1 243.7L535.6 242.5M303.2 264.7L303.0 266.8M230.4 270.0L230.0 276.8M477.0 130.8L474.0 129.2M401.6 106.5L395.1 105.4M436.6 384.7L437.1 387.8M372.5 411.4L366.6 417.5M472.7 370.1L478.1 366.5M236.3 299.6L233.9 300.7M331.4 421.2L340.6 424.6M545.1 443.2L540.6 444.7M319.5 424.8L317.7 423.5M523.4 281.0L530.7 270.5M360.8 416.3L353.8 423.7M540.6 444.7L539.1 444.1M406.8 71.8L411.2 75.0M368.2 417.7L368.3 417.7M402.7 367.9L404.7 365.0M541.4 259.5L540.0 257.3M465.9 279.6L464.7 285.2M372.0 364.6L368.6 368.1M518.8 67.1L525.0 62.1M556.6 79.4L553.6 89.6M485.3 257.2L485.2 257.4M491.7 146.0L490.1 146.4M473.1 104.8L469.8 99.6M483.5 73.9L487.3 63.2M262.9 330.1L261.0 331.3M180.4 58.6L197.4 57.1L214.3 61.4L207.4 71.4M214.3 61.4L219.3 76.4L229.6 76.4L238.3 66.9L245.4 58.6M238.3 66.9L240.7 68.6M219.3 76.4L210.3 82.6L199.3 90.4L190.3 89.3L185.4 87.4L180.4 84.3M199.3 90.4L203.8 95.1M203.8 103.1L198.6 100.3M178.6 101.4L193.6 110.7L202.3 105.0M207.0 110.5L208.6 108.3M197.4 114.3L197.4 125.0L188.3 128.3M197.4 125.0L222.1 108.3L234.3 96.4L243.6 89.3M222.1 108.3L218.6 98.6M222.1 108.3L215.4 103.6M222.1 108.3L231.4 106.4M165.4 122.6L170.7 131.4L179.3 138.6L177.4 154.6L166.0 157.6M177.4 154.6L183.1 170.7L197.1 164.2M183.1 170.7L172.7 183.6L166.2 178.6M172.7 183.6L170.3 196.4L174.3 203.6L175.4 209.3M185.4 153.3L197.1 164.2M197.1 164.2L197.6 174.5M215.1 134.6L226.4 131.4L231.4 131.4L237.6 130.4M226.4 131.4L240.4 138.6L241.4 149.3M215.1 134.6L222.4 142.9M215.1 134.6L220.4 145.7M207.9 139.6L220.4 145.7M208.6 151.4L210.3 158.6M213.6 176.4L215.4 170.3M212.9 177.5L218.6 189.3L229.6 199.6M218.6 189.3L206.4 201.1L198.6 192.4M206.4 201.1L194.3 194.6M206.4 201.1L206.4 216.4L218.6 226.4L218.6 237.1M241.4 201.4L244.3 185.0L252.1 180.7M238.3 184.3L244.3 185.0M247.4 213.3L260.0 216.4M240.0 239.3L245.4 238.3L255.4 232.9L260.0 229.3M245.4 238.3L248.6 243.6M265.1 173.2L267.2 178.3M258.6 190.8L276.6 190.8M296.3 168.4L299.8 182.6L304.6 191.7L304.9 205.8M296.3 168.4L300.6 164.2L305.4 173.2M323.8 167.7L330.6 166.6L335.4 164.2M330.6 166.6L332.9 179.2L336.3 196.3M323.8 182.6L332.9 179.2M336.3 196.3L339.2 191.7L344.4 186.9L349.5 175.7M336.3 196.3L326.3 202.3L319.5 215.2L309.2 229.8L304.6 235.3L301.5 238.7M250.0 215.2L262.4 216.9L272.3 205.8M262.4 216.9L273.2 230.6L286.0 236.6M262.4 216.9L262.9 225.5L259.4 229.8L256.0 233.2M273.7 220.3L273.2 230.6M273.2 230.6L272.0 235.8M273.2 230.6L262.4 238.4M286.0 236.6L279.5 241.8M286.0 236.6L287.4 243.5M288.6 210.0L287.7 216.9M295.5 220.7L304.9 228.9L309.2 229.8M304.9 228.9L305.4 224.6M304.6 235.3L307.5 235.3M336.3 216.4L332.4 226.3M330.6 240.4L339.2 236.3L345.2 233.2M345.2 238.7L349.2 238.4L355.0 238.0M373.4 158.6L361.4 162.5L360.9 173.2L360.2 186.5L361.4 194.6M352.0 183.5L360.2 186.5M361.4 194.6L368.3 191.5M361.4 194.6L376.0 201.5M356.3 197.7L358.0 209.2L352.0 217.8M362.3 205.8L358.0 209.2M376.0 201.5L378.6 216.9M376.0 201.5L388.9 192.4L379.5 183.5L375.7 182.6M388.9 192.4L380.3 188.3M388.9 192.4L391.5 175.7L401.8 174.5M388.9 192.4L391.1 200.6M388.9 192.4L396.3 191.2L396.6 181.7M396.3 191.2L403.5 199.4L392.3 208.3L383.7 215.2M396.3 191.2L405.2 187.7L409.5 186.9L413.8 188.3M401.8 186.5L406.0 188.3M405.2 187.7L410.3 174.5L428.3 177.4M406.9 183.5L411.2 176.6M428.3 177.4L422.3 161.7M428.3 177.4L439.5 169.4M428.3 177.4L441.2 188.3L454.6 182.6M441.2 188.3L426.6 193.4M441.2 188.3L444.6 204.6M444.6 204.6L448.1 204.6M392.3 208.3L403.5 218.6L406.6 224.6L407.8 236.6M402.6 204.6L406.6 214.3L406.6 224.6M413.4 201.5L410.3 207.5L406.6 214.3M412.0 207.5L409.5 207.5M412.0 220.3L406.6 224.6M418.1 218.6L412.0 220.3M416.9 222.1L412.0 220.3M410.0 231.5L407.2 229.8M430.6 206.6L427.5 215.2L434.9 219.8L438.3 226.7L427.5 238.0L423.2 246.1M438.3 226.7L446.4 229.4L446.0 240.1L438.3 226.7M364.4 232.3L369.2 228.1M357.1 238.7L352.0 238.7M382.9 226.3L392.3 231.5M381.2 234.1L392.3 231.5M388.9 240.1L392.3 236.6M283.3 70.2L292.7 58.7L301.1 68.5L305.3 65.6L321.4 67.4L335.4 60.7L322.1 60.4L329.1 56.2M277.3 59.3L268.2 73.3L283.3 70.2L297.3 74.4L301.1 68.5M269.6 61.5L283.3 70.2M268.2 73.3L276.6 84.9L282.2 91.9L292.0 92.6L298.3 84.9L293.4 83.1M335.4 60.7L334.0 76.5L342.4 76.5M334.0 76.5L324.9 85.6L314.4 84.5L301.1 90.1L297.6 98.2M327.0 76.5L320.0 88.4L313.0 101.0M335.4 60.7L342.4 62.5L352.2 66.0M347.3 58.3L349.4 61.1L352.2 66.0L355.0 66.0M355.0 77.9L347.3 84.5L338.9 93.3L343.1 96.5M298.3 84.9L294.1 99.6M306.0 91.2L309.1 100.3M314.4 84.5L310.9 100.3M270.3 86.3L276.6 84.9M272.4 90.5L282.2 91.9M271.7 99.9L276.6 105.5L286.4 99.9M276.6 105.5L278.7 111.8M276.6 105.5L281.5 117.1M276.6 105.5L278.0 123.7M276.6 105.5L268.9 120.2L271.7 125.1L274.5 132.8L274.5 137.0M276.6 105.5L293.4 100.6L310.2 100.6L328.4 106.2L343.1 108.3L356.4 109.0M310.2 100.6L303.9 109.0L306.7 115.3M318.6 97.1L328.4 106.2L339.6 111.8L339.6 116.3M343.1 108.3L339.6 111.8M328.4 106.2L318.6 119.5L313.0 135.6L301.5 141.2M313.0 135.6L315.5 139.5M318.6 107.6L318.6 119.5M314.4 111.5L318.6 119.5M318.6 119.5L323.5 134.5L326.3 129.3M343.1 134.6L352.2 127.5M351.5 102.0L356.4 109.0M385.2 245.6L388.7 240.7M395.7 244.9L404.8 245.6L402.7 250.5M400.6 242.1L404.8 240.0M396.4 246.7L404.8 245.6M418.8 250.5L427.9 240.0M424.4 246.3L424.4 254.0M433.5 255.1L430.0 261.0M440.5 257.5L434.2 265.9M387.3 267.3L403.4 265.5L406.9 265.5L416.3 265.5L426.5 268.7M396.4 263.1L403.4 265.5M416.3 265.5L414.3 270.1L408.3 280.6L414.6 290.1M405.5 284.5L414.6 290.1M372.6 275.3L370.9 283.4L384.5 291.5L388.0 296.0M445.4 265.5L443.3 269.4L452.4 279.2M432.5 281.3L442.6 281.3L455.2 292.5M442.6 294.3L449.6 292.5L455.2 292.5L460.1 293.2M378.5 292.7L381.7 303.2L392.9 303.2L384.5 292.0M392.9 303.2L392.2 313.7L396.4 317.5M379.3 315.1L384.5 317.5L396.4 317.5L409.7 313.0L421.6 313.7L427.9 312.3M379.3 315.1L381.0 327.3M399.5 312.3L409.7 313.0M410.4 298.3L409.7 313.0M427.9 312.3L432.1 300.7L427.9 296.2L423.7 294.5M427.9 312.3L440.5 303.2M427.9 312.3L444.0 306.0M427.9 312.3L441.9 318.6M441.9 318.6L449.6 311.6L458.7 310.2L465.0 308.8M458.7 310.2L460.5 317.5M441.9 318.6L434.2 319.3M441.9 318.6L436.3 332.6L429.3 346.6M441.9 318.6L451.0 331.2L452.4 343.5M421.6 313.7L412.5 319.3L409.7 329.8L406.9 330.1L394.3 332.6L383.5 333.3M394.3 332.6L395.7 336.5L383.5 343.5M409.7 329.8L417.7 334.0L419.5 343.5M417.7 334.0L427.9 325.6L441.9 318.6M413.2 329.5L422.3 324.5L427.9 325.6M429.3 337.5L434.2 335.4" fill="none" stroke="#00ffff" stroke-width="1.05"/>
<g fill="#00ffff">
<circle cx="525.1" cy="415.6" r="1.65"/>
<circle cx="510.3" cy="407.2" r="1.65"/>
<circle cx="493.4" cy="409.8" r="1.65"/>
<circle cx="487.7" cy="393.7" r="1.65"/>
<circle cx="470.9" cy="397.0" r="1.65"/>
<circle cx="494.4" cy="426.9" r="1.65"/>
<circle cx="461.8" cy="382.6" r="1.65"/>
<circle cx="460.6" cy="365.5" r="1.65"/>
<circle cx="536.1" cy="426.1" r="1.65"/>
<circle cx="444.8" cy="384.2" r="1.65"/>
<circle cx="430.4" cy="393.2" r="1.65"/>
<circle cx="414.1" cy="388.2" r="1.65"/>
<circle cx="400.5" cy="377.8" r="1.65"/>
<circle cx="383.8" cy="374.1" r="1.65"/>
<circle cx="366.8" cy="375.9" r="1.65"/>
<circle cx="477.9" cy="431.5" r="1.65"/>
<circle cx="510.2" cy="390.3" r="1.65"/>
<circle cx="349.8" cy="377.9" r="1.65"/>
<circle cx="332.7" cy="378.8" r="1.65"/>
<circle cx="516.8" cy="374.6" r="1.65"/>
<circle cx="317.0" cy="385.5" r="1.65"/>
<circle cx="300.1" cy="382.7" r="1.65"/>
<circle cx="520.8" cy="358.0" r="1.65"/>
<circle cx="296.7" cy="365.9" r="1.65"/>
<circle cx="547.4" cy="414.9" r="1.65"/>
<circle cx="289.2" cy="393.9" r="1.65"/>
<circle cx="521.7" cy="340.9" r="1.65"/>
<circle cx="518.7" cy="324.0" r="1.65"/>
<circle cx="272.7" cy="390.0" r="1.65"/>
<circle cx="510.1" cy="309.2" r="1.65"/>
<circle cx="501.7" cy="294.3" r="1.65"/>
<circle cx="506.6" cy="284.2" r="1.65"/>
<circle cx="491.2" cy="276.9" r="1.65"/>
<circle cx="482.4" cy="262.2" r="1.65"/>
<circle cx="534.1" cy="442.0" r="1.65"/>
<circle cx="256.2" cy="394.2" r="1.65"/>
<circle cx="490.5" cy="247.2" r="1.65"/>
<circle cx="480.5" cy="233.6" r="1.65"/>
<circle cx="245.6" cy="380.7" r="1.65"/>
<circle cx="522.2" cy="405.6" r="1.65"/>
<circle cx="523.7" cy="283.0" r="1.65"/>
<circle cx="534.0" cy="446.1" r="1.65"/>
<circle cx="478.1" cy="216.7" r="1.65"/>
<circle cx="295.0" cy="409.8" r="1.65"/>
<circle cx="467.5" cy="270.4" r="1.65"/>
<circle cx="367.8" cy="393.0" r="1.65"/>
<circle cx="486.9" cy="202.0" r="1.65"/>
<circle cx="525.8" cy="440.2" r="1.65"/>
<circle cx="485.7" cy="185.1" r="1.65"/>
<circle cx="283.0" cy="409.9" r="1.65"/>
<circle cx="234.0" cy="368.4" r="1.65"/>
<circle cx="222.3" cy="380.5" r="1.65"/>
<circle cx="233.2" cy="351.3" r="1.65"/>
<circle cx="246.0" cy="374.1" r="1.65"/>
<circle cx="243.6" cy="343.5" r="1.65"/>
<circle cx="487.9" cy="302.6" r="1.65"/>
<circle cx="249.4" cy="327.5" r="1.65"/>
<circle cx="244.1" cy="311.2" r="1.65"/>
<circle cx="235.0" cy="369.8" r="1.65"/>
<circle cx="245.2" cy="294.1" r="1.65"/>
<circle cx="476.7" cy="170.6" r="1.65"/>
<circle cx="283.3" cy="371.0" r="1.65"/>
<circle cx="238.7" cy="278.3" r="1.65"/>
<circle cx="225.3" cy="373.0" r="1.65"/>
<circle cx="232.6" cy="262.5" r="1.65"/>
<circle cx="260.1" cy="410.8" r="1.65"/>
<circle cx="489.4" cy="166.9" r="1.65"/>
<circle cx="540.3" cy="279.2" r="1.65"/>
<circle cx="216.4" cy="264.5" r="1.65"/>
<circle cx="496.5" cy="152.2" r="1.65"/>
<circle cx="207.8" cy="279.3" r="1.65"/>
<circle cx="490.3" cy="196.4" r="1.65"/>
<circle cx="507.6" cy="139.5" r="1.65"/>
<circle cx="253.7" cy="270.5" r="1.65"/>
<circle cx="270.9" cy="413.1" r="1.65"/>
<circle cx="276.3" cy="429.1" r="1.65"/>
<circle cx="482.4" cy="151.8" r="1.65"/>
<circle cx="234.5" cy="285.1" r="1.65"/>
<circle cx="546.2" cy="263.3" r="1.65"/>
<circle cx="506.0" cy="242.9" r="1.65"/>
<circle cx="525.8" cy="317.0" r="1.65"/>
<circle cx="206.1" cy="384.4" r="1.65"/>
<circle cx="196.1" cy="398.2" r="1.65"/>
<circle cx="213.3" cy="293.9" r="1.65"/>
<circle cx="335.3" cy="391.4" r="1.65"/>
<circle cx="288.8" cy="439.4" r="1.65"/>
<circle cx="208.9" cy="408.8" r="1.65"/>
<circle cx="556.8" cy="428.5" r="1.65"/>
<circle cx="180.5" cy="404.4" r="1.65"/>
<circle cx="363.9" cy="409.3" r="1.65"/>
<circle cx="365.2" cy="426.4" r="1.65"/>
<circle cx="331.4" cy="405.0" r="1.65"/>
<circle cx="216.1" cy="422.7" r="1.65"/>
<circle cx="473.8" cy="137.0" r="1.65"/>
<circle cx="172.9" cy="419.0" r="1.65"/>
<circle cx="437.6" cy="407.5" r="1.65"/>
<circle cx="522.3" cy="364.8" r="1.65"/>
<circle cx="483.1" cy="447.1" r="1.65"/>
<circle cx="522.4" cy="132.2" r="1.65"/>
<circle cx="457.2" cy="133.1" r="1.65"/>
<circle cx="198.3" cy="301.1" r="1.65"/>
<circle cx="252.5" cy="421.8" r="1.65"/>
<circle cx="536.4" cy="365.0" r="1.65"/>
<circle cx="263.6" cy="320.2" r="1.65"/>
<circle cx="253.3" cy="408.3" r="1.65"/>
<circle cx="528.2" cy="148.2" r="1.65"/>
<circle cx="506.2" cy="340.8" r="1.65"/>
<circle cx="347.0" cy="387.2" r="1.65"/>
<circle cx="491.7" cy="146.0" r="1.65"/>
<circle cx="444.1" cy="122.6" r="1.65"/>
<circle cx="226.6" cy="435.2" r="1.65"/>
<circle cx="428.3" cy="116.1" r="1.65"/>
<circle cx="535.4" cy="121.0" r="1.65"/>
<circle cx="430.8" cy="99.6" r="1.65"/>
<circle cx="242.9" cy="294.1" r="1.65"/>
<circle cx="274.2" cy="376.1" r="1.65"/>
<circle cx="183.3" cy="417.4" r="1.65"/>
<circle cx="414.5" cy="125.8" r="1.65"/>
<circle cx="466.1" cy="449.4" r="1.65"/>
<circle cx="472.5" cy="371.0" r="1.65"/>
<circle cx="401.5" cy="114.8" r="1.65"/>
<circle cx="300.1" cy="404.6" r="1.65"/>
<circle cx="376.4" cy="390.3" r="1.65"/>
<circle cx="529.6" cy="116.6" r="1.65"/>
<circle cx="270.8" cy="335.5" r="1.65"/>
<circle cx="552.4" cy="122.5" r="1.65"/>
<circle cx="472.9" cy="308.8" r="1.65"/>
<circle cx="374.6" cy="439.1" r="1.65"/>
<circle cx="467.4" cy="441.6" r="1.65"/>
<circle cx="453.2" cy="434.0" r="1.65"/>
<circle cx="266.5" cy="341.0" r="1.65"/>
<circle cx="551.9" cy="372.2" r="1.65"/>
<circle cx="244.3" cy="369.0" r="1.65"/>
<circle cx="192.1" cy="275.3" r="1.65"/>
<circle cx="297.3" cy="404.0" r="1.65"/>
<circle cx="428.5" cy="87.4" r="1.65"/>
<circle cx="385.0" cy="114.0" r="1.65"/>
<circle cx="301.3" cy="380.2" r="1.65"/>
<circle cx="165.7" cy="409.2" r="1.65"/>
<circle cx="368.7" cy="109.5" r="1.65"/>
<circle cx="172.8" cy="389.1" r="1.65"/>
<circle cx="494.8" cy="149.3" r="1.65"/>
<circle cx="277.8" cy="312.5" r="1.65"/>
<circle cx="180.0" cy="376.0" r="1.65"/>
<circle cx="331.4" cy="421.2" r="1.65"/>
<circle cx="555.4" cy="106.9" r="1.65"/>
<circle cx="368.2" cy="417.7" r="1.65"/>
<circle cx="511.4" cy="337.6" r="1.65"/>
<circle cx="556.1" cy="249.7" r="1.65"/>
<circle cx="443.2" cy="373.7" r="1.65"/>
<circle cx="215.4" cy="273.1" r="1.65"/>
<circle cx="540.1" cy="254.9" r="1.65"/>
<circle cx="418.6" cy="138.1" r="1.65"/>
<circle cx="255.4" cy="344.8" r="1.65"/>
<circle cx="541.5" cy="311.4" r="1.65"/>
<circle cx="477.0" cy="121.1" r="1.65"/>
<circle cx="177.2" cy="429.5" r="1.65"/>
<circle cx="536.7" cy="102.6" r="1.65"/>
<circle cx="534.9" cy="126.9" r="1.65"/>
<circle cx="534.6" cy="241.0" r="1.65"/>
<circle cx="558.0" cy="311.3" r="1.65"/>
<circle cx="540.9" cy="442.3" r="1.65"/>
<circle cx="509.8" cy="360.7" r="1.65"/>
<circle cx="481.8" cy="140.4" r="1.65"/>
<circle cx="210.2" cy="433.6" r="1.65"/>
<circle cx="474.0" cy="190.8" r="1.65"/>
<circle cx="275.9" cy="314.6" r="1.65"/>
<circle cx="171.0" cy="362.7" r="1.65"/>
<circle cx="539.7" cy="305.4" r="1.65"/>
<circle cx="177.1" cy="283.4" r="1.65"/>
<circle cx="505.9" cy="130.2" r="1.65"/>
<circle cx="458.9" cy="318.6" r="1.65"/>
<circle cx="291.7" cy="308.4" r="1.65"/>
<circle cx="230.4" cy="270.0" r="1.65"/>
<circle cx="494.3" cy="332.4" r="1.65"/>
<circle cx="427.9" cy="74.0" r="1.65"/>
<circle cx="436.7" cy="429.5" r="1.65"/>
<circle cx="511.3" cy="160.7" r="1.65"/>
<circle cx="523.7" cy="106.2" r="1.65"/>
<circle cx="519.3" cy="433.3" r="1.65"/>
<circle cx="558.9" cy="404.1" r="1.65"/>
<circle cx="535.3" cy="436.5" r="1.65"/>
<circle cx="171.5" cy="373.7" r="1.65"/>
<circle cx="300.5" cy="320.0" r="1.65"/>
<circle cx="185.6" cy="354.1" r="1.65"/>
<circle cx="376.3" cy="444.9" r="1.65"/>
<circle cx="211.6" cy="388.5" r="1.65"/>
<circle cx="427.3" cy="402.4" r="1.65"/>
<circle cx="433.9" cy="59.6" r="1.65"/>
<circle cx="481.1" cy="104.5" r="1.65"/>
<circle cx="530.1" cy="361.2" r="1.65"/>
<circle cx="547.6" cy="123.4" r="1.65"/>
<circle cx="431.9" cy="445.9" r="1.65"/>
<circle cx="400.5" cy="379.6" r="1.65"/>
<circle cx="361.5" cy="96.1" r="1.65"/>
<circle cx="189.4" cy="315.0" r="1.65"/>
<circle cx="551.4" cy="309.7" r="1.65"/>
<circle cx="366.2" cy="79.7" r="1.65"/>
<circle cx="176.0" cy="412.9" r="1.65"/>
<circle cx="489.5" cy="290.0" r="1.65"/>
<circle cx="178.2" cy="306.2" r="1.65"/>
<circle cx="228.0" cy="289.3" r="1.65"/>
<circle cx="201.1" cy="361.0" r="1.65"/>
<circle cx="323.8" cy="412.4" r="1.65"/>
<circle cx="370.3" cy="405.0" r="1.65"/>
<circle cx="233.4" cy="321.2" r="1.65"/>
<circle cx="239.5" cy="340.6" r="1.65"/>
<circle cx="479.4" cy="421.9" r="1.65"/>
<circle cx="522.1" cy="240.7" r="1.65"/>
<circle cx="415.6" cy="412.5" r="1.65"/>
<circle cx="551.2" cy="429.2" r="1.65"/>
<circle cx="202.5" cy="346.4" r="1.65"/>
<circle cx="552.0" cy="315.4" r="1.65"/>
<circle cx="475.9" cy="396.9" r="1.65"/>
<circle cx="494.1" cy="220.0" r="1.65"/>
<circle cx="207.7" cy="447.8" r="1.65"/>
<circle cx="189.8" cy="281.1" r="1.65"/>
<circle cx="473.5" cy="392.5" r="1.65"/>
<circle cx="494.5" cy="439.8" r="1.65"/>
<circle cx="411.5" cy="86.3" r="1.65"/>
<circle cx="247.7" cy="307.4" r="1.65"/>
<circle cx="317.0" cy="324.3" r="1.65"/>
<circle cx="208.7" cy="288.2" r="1.65"/>
<circle cx="219.8" cy="437.9" r="1.65"/>
<circle cx="174.5" cy="378.1" r="1.65"/>
<circle cx="539.3" cy="224.6" r="1.65"/>
<circle cx="360.8" cy="445.8" r="1.65"/>
<circle cx="527.8" cy="212.0" r="1.65"/>
<circle cx="413.5" cy="66.1" r="1.65"/>
<circle cx="290.5" cy="435.8" r="1.65"/>
<circle cx="221.2" cy="278.9" r="1.65"/>
<circle cx="270.8" cy="269.1" r="1.65"/>
<circle cx="491.8" cy="301.8" r="1.65"/>
<circle cx="481.8" cy="156.5" r="1.65"/>
<circle cx="268.3" cy="299.1" r="1.65"/>
<circle cx="258.8" cy="344.2" r="1.65"/>
<circle cx="235.5" cy="299.3" r="1.65"/>
<circle cx="480.6" cy="124.7" r="1.65"/>
<circle cx="411.9" cy="427.8" r="1.65"/>
<circle cx="231.0" cy="318.6" r="1.65"/>
<circle cx="310.6" cy="331.2" r="1.65"/>
<circle cx="289.8" cy="404.0" r="1.65"/>
<circle cx="492.8" cy="143.1" r="1.65"/>
<circle cx="465.9" cy="317.2" r="1.65"/>
<circle cx="547.5" cy="395.9" r="1.65"/>
<circle cx="394.5" cy="84.7" r="1.65"/>
<circle cx="399.1" cy="422.5" r="1.65"/>
<circle cx="369.6" cy="434.1" r="1.65"/>
<circle cx="381.2" cy="389.5" r="1.65"/>
<circle cx="169.5" cy="287.0" r="1.65"/>
<circle cx="436.7" cy="449.4" r="1.65"/>
<circle cx="377.5" cy="369.8" r="1.65"/>
<circle cx="487.0" cy="88.5" r="1.65"/>
<circle cx="493.7" cy="245.2" r="1.65"/>
<circle cx="530.4" cy="366.9" r="1.65"/>
<circle cx="457.6" cy="440.0" r="1.65"/>
<circle cx="361.2" cy="417.8" r="1.65"/>
<circle cx="513.7" cy="202.8" r="1.65"/>
<circle cx="402.7" cy="367.9" r="1.65"/>
<circle cx="332.8" cy="323.0" r="1.65"/>
<circle cx="237.1" cy="292.7" r="1.65"/>
<circle cx="311.5" cy="394.0" r="1.65"/>
<circle cx="546.3" cy="316.5" r="1.65"/>
<circle cx="342.3" cy="409.0" r="1.65"/>
<circle cx="228.4" cy="337.3" r="1.65"/>
<circle cx="506.9" cy="330.4" r="1.65"/>
<circle cx="405.7" cy="119.5" r="1.65"/>
<circle cx="440.4" cy="127.4" r="1.65"/>
<circle cx="215.2" cy="396.4" r="1.65"/>
<circle cx="199.0" cy="323.7" r="1.65"/>
<circle cx="478.3" cy="440.6" r="1.65"/>
<circle cx="377.8" cy="78.3" r="1.65"/>
<circle cx="383.5" cy="130.0" r="1.65"/>
<circle cx="473.5" cy="273.3" r="1.65"/>
<circle cx="368.0" cy="86.8" r="1.65"/>
<circle cx="459.4" cy="404.6" r="1.65"/>
<circle cx="438.8" cy="422.6" r="1.65"/>
<circle cx="530.1" cy="132.2" r="1.65"/>
<circle cx="553.6" cy="222.9" r="1.65"/>
<circle cx="329.9" cy="408.1" r="1.65"/>
<circle cx="384.9" cy="121.3" r="1.65"/>
<circle cx="215.1" cy="265.6" r="1.65"/>
<circle cx="195.5" cy="358.8" r="1.65"/>
<circle cx="465.9" cy="279.6" r="1.65"/>
<circle cx="331.4" cy="306.0" r="1.65"/>
<circle cx="353.6" cy="445.4" r="1.65"/>
<circle cx="171.3" cy="267.3" r="1.65"/>
<circle cx="550.4" cy="415.0" r="1.65"/>
<circle cx="484.2" cy="370.8" r="1.65"/>
<circle cx="476.9" cy="354.8" r="1.65"/>
<circle cx="237.6" cy="448.3" r="1.65"/>
<circle cx="211.7" cy="412.8" r="1.65"/>
<circle cx="169.0" cy="320.1" r="1.65"/>
<circle cx="406.8" cy="71.8" r="1.65"/>
<circle cx="519.3" cy="93.0" r="1.65"/>
<circle cx="497.2" cy="74.8" r="1.65"/>
<circle cx="206.6" cy="364.1" r="1.65"/>
<circle cx="508.3" cy="62.5" r="1.65"/>
<circle cx="484.3" cy="367.3" r="1.65"/>
<circle cx="432.7" cy="91.2" r="1.65"/>
<circle cx="374.8" cy="449.5" r="1.65"/>
<circle cx="317.8" cy="327.2" r="1.65"/>
<circle cx="202.4" cy="290.9" r="1.65"/>
<circle cx="168.7" cy="357.6" r="1.65"/>
<circle cx="438.8" cy="435.3" r="1.65"/>
<circle cx="531.2" cy="279.8" r="1.65"/>
<circle cx="451.5" cy="135.1" r="1.65"/>
<circle cx="481.8" cy="250.6" r="1.65"/>
<circle cx="335.6" cy="376.2" r="1.65"/>
<circle cx="362.8" cy="429.9" r="1.65"/>
<circle cx="292.4" cy="412.6" r="1.65"/>
<circle cx="238.4" cy="447.4" r="1.65"/>
<circle cx="212.0" cy="367.2" r="1.65"/>
<circle cx="489.8" cy="315.0" r="1.65"/>
<circle cx="281.7" cy="289.1" r="1.65"/>
<circle cx="250.8" cy="273.2" r="1.65"/>
<circle cx="495.8" cy="186.3" r="1.65"/>
<circle cx="406.5" cy="435.8" r="1.65"/>
<circle cx="209.3" cy="342.4" r="1.65"/>
<circle cx="511.4" cy="217.9" r="1.65"/>
<circle cx="494.3" cy="411.6" r="1.65"/>
<circle cx="500.5" cy="152.5" r="1.65"/>
<circle cx="510.9" cy="226.0" r="1.65"/>
<circle cx="300.7" cy="425.1" r="1.65"/>
<circle cx="182.2" cy="266.5" r="1.65"/>
<circle cx="385.4" cy="372.6" r="1.65"/>
<circle cx="203.1" cy="317.2" r="1.65"/>
<circle cx="554.0" cy="386.0" r="1.65"/>
<circle cx="446.6" cy="430.8" r="1.65"/>
<circle cx="331.2" cy="404.4" r="1.65"/>
<circle cx="459.3" cy="422.8" r="1.65"/>
<circle cx="501.5" cy="256.3" r="1.65"/>
<circle cx="531.2" cy="226.6" r="1.65"/>
<circle cx="367.9" cy="411.8" r="1.65"/>
<circle cx="484.3" cy="231.7" r="1.65"/>
<circle cx="488.8" cy="356.6" r="1.65"/>
<circle cx="446.9" cy="385.0" r="1.65"/>
<circle cx="546.7" cy="106.4" r="1.65"/>
<circle cx="241.3" cy="304.2" r="1.65"/>
<circle cx="521.8" cy="88.6" r="1.65"/>
<circle cx="196.4" cy="433.4" r="1.65"/>
<circle cx="200.2" cy="385.0" r="1.65"/>
<circle cx="551.8" cy="386.5" r="1.65"/>
<circle cx="548.7" cy="139.4" r="1.65"/>
<circle cx="257.8" cy="381.7" r="1.65"/>
<circle cx="508.9" cy="299.0" r="1.65"/>
<circle cx="368.1" cy="107.8" r="1.65"/>
<circle cx="390.2" cy="131.0" r="1.65"/>
<circle cx="493.0" cy="144.2" r="1.65"/>
<circle cx="250.0" cy="429.1" r="1.65"/>
<circle cx="427.9" cy="419.5" r="1.65"/>
<circle cx="400.7" cy="141.7" r="1.65"/>
<circle cx="389.8" cy="100.2" r="1.65"/>
<circle cx="233.1" cy="375.9" r="1.65"/>
<circle cx="524.5" cy="57.0" r="1.65"/>
<circle cx="268.5" cy="381.5" r="1.65"/>
<circle cx="429.7" cy="84.1" r="1.65"/>
<circle cx="274.5" cy="409.6" r="1.65"/>
<circle cx="185.5" cy="364.7" r="1.65"/>
<circle cx="199.5" cy="316.1" r="1.65"/>
<circle cx="530.6" cy="118.7" r="1.65"/>
<circle cx="527.6" cy="165.9" r="1.65"/>
<circle cx="454.7" cy="437.9" r="1.65"/>
<circle cx="536.0" cy="133.8" r="1.65"/>
<circle cx="499.3" cy="209.7" r="1.65"/>
<circle cx="355.8" cy="376.2" r="1.65"/>
<circle cx="277.1" cy="429.2" r="1.65"/>
<circle cx="345.3" cy="334.0" r="1.65"/>
<circle cx="183.6" cy="291.5" r="1.65"/>
<circle cx="270.5" cy="408.0" r="1.65"/>
<circle cx="328.0" cy="437.3" r="1.65"/>
<circle cx="249.4" cy="275.5" r="1.65"/>
<circle cx="383.1" cy="421.8" r="1.65"/>
<circle cx="506.0" cy="365.8" r="1.65"/>
<circle cx="285.8" cy="311.4" r="1.65"/>
<circle cx="518.7" cy="242.5" r="1.65"/>
<circle cx="537.3" cy="342.4" r="1.65"/>
<circle cx="376.5" cy="61.5" r="1.65"/>
<circle cx="530.2" cy="120.3" r="1.65"/>
<circle cx="473.6" cy="262.7" r="1.65"/>
<circle cx="413.2" cy="374.8" r="1.65"/>
<circle cx="244.1" cy="358.0" r="1.65"/>
<circle cx="281.5" cy="327.5" r="1.65"/>
<circle cx="350.6" cy="440.2" r="1.65"/>
<circle cx="168.5" cy="442.3" r="1.65"/>
<circle cx="490.5" cy="311.7" r="1.65"/>
<circle cx="510.1" cy="259.0" r="1.65"/>
<circle cx="189.5" cy="413.4" r="1.65"/>
<circle cx="319.1" cy="370.0" r="1.65"/>
<circle cx="522.2" cy="194.2" r="1.65"/>
<circle cx="546.1" cy="267.3" r="1.65"/>
<circle cx="360.1" cy="124.2" r="1.65"/>
<circle cx="349.5" cy="334.2" r="1.65"/>
<circle cx="484.9" cy="196.4" r="1.65"/>
<circle cx="525.3" cy="127.8" r="1.65"/>
<circle cx="243.9" cy="271.7" r="1.65"/>
<circle cx="552.7" cy="391.0" r="1.65"/>
<circle cx="169.2" cy="401.7" r="1.65"/>
<circle cx="423.8" cy="88.8" r="1.65"/>
<circle cx="180.1" cy="261.7" r="1.65"/>
<circle cx="528.1" cy="427.3" r="1.65"/>
<circle cx="287.2" cy="388.9" r="1.65"/>
<circle cx="548.7" cy="320.2" r="1.65"/>
<circle cx="290.2" cy="416.3" r="1.65"/>
<circle cx="176.4" cy="343.2" r="1.65"/>
<circle cx="272.1" cy="445.3" r="1.65"/>
<circle cx="434.5" cy="445.7" r="1.65"/>
<circle cx="522.0" cy="198.2" r="1.65"/>
<circle cx="497.9" cy="220.5" r="1.65"/>
<circle cx="274.4" cy="310.4" r="1.65"/>
<circle cx="297.2" cy="371.4" r="1.65"/>
<circle cx="365.2" cy="430.5" r="1.65"/>
<circle cx="488.7" cy="440.3" r="1.65"/>
<circle cx="486.1" cy="350.6" r="1.65"/>
<circle cx="268.4" cy="337.2" r="1.65"/>
<circle cx="500.6" cy="171.4" r="1.65"/>
<circle cx="454.4" cy="431.0" r="1.65"/>
<circle cx="390.0" cy="57.0" r="1.65"/>
<circle cx="374.9" cy="389.1" r="1.65"/>
<circle cx="556.7" cy="394.1" r="1.65"/>
<circle cx="306.7" cy="410.8" r="1.65"/>
<circle cx="496.9" cy="104.2" r="1.65"/>
<circle cx="256.3" cy="374.9" r="1.65"/>
<circle cx="202.6" cy="326.7" r="1.65"/>
<circle cx="543.1" cy="229.0" r="1.65"/>
<circle cx="498.3" cy="235.3" r="1.65"/>
<circle cx="236.4" cy="409.1" r="1.65"/>
<circle cx="522.9" cy="243.4" r="1.65"/>
<circle cx="340.3" cy="436.2" r="1.65"/>
<circle cx="486.2" cy="296.2" r="1.65"/>
<circle cx="532.7" cy="185.9" r="1.65"/>
<circle cx="211.8" cy="315.6" r="1.65"/>
<circle cx="360.7" cy="373.6" r="1.65"/>
<circle cx="233.6" cy="411.2" r="1.65"/>
<circle cx="405.6" cy="133.2" r="1.65"/>
<circle cx="429.4" cy="120.4" r="1.65"/>
<circle cx="505.3" cy="398.5" r="1.65"/>
<circle cx="397.6" cy="406.4" r="1.65"/>
<circle cx="197.6" cy="428.4" r="1.65"/>
<circle cx="230.5" cy="313.2" r="1.65"/>
<circle cx="342.4" cy="407.6" r="1.65"/>
<circle cx="532.6" cy="149.3" r="1.65"/>
<circle cx="516.3" cy="347.8" r="1.65"/>
<circle cx="168.1" cy="265.6" r="1.65"/>
<circle cx="231.4" cy="411.7" r="1.65"/>
<circle cx="405.4" cy="401.8" r="1.65"/>
<circle cx="212.5" cy="406.5" r="1.65"/>
<circle cx="558.0" cy="94.3" r="1.65"/>
<circle cx="233.4" cy="358.6" r="1.65"/>
<circle cx="520.8" cy="122.2" r="1.65"/>
<circle cx="479.6" cy="75.8" r="1.65"/>
<circle cx="186.3" cy="440.5" r="1.65"/>
<circle cx="480.2" cy="256.8" r="1.65"/>
<circle cx="403.2" cy="444.7" r="1.65"/>
<circle cx="466.9" cy="330.9" r="1.65"/>
<circle cx="533.2" cy="163.0" r="1.65"/>
<circle cx="536.4" cy="343.6" r="1.65"/>
<circle cx="305.3" cy="321.0" r="1.65"/>
<circle cx="504.0" cy="219.0" r="1.65"/>
<circle cx="553.3" cy="409.1" r="1.65"/>
<circle cx="539.3" cy="212.3" r="1.65"/>
<circle cx="330.8" cy="302.4" r="1.65"/>
<circle cx="545.8" cy="281.3" r="1.65"/>
<circle cx="478.7" cy="244.7" r="1.65"/>
<circle cx="495.6" cy="72.9" r="1.65"/>
<circle cx="226.1" cy="290.7" r="1.65"/>
<circle cx="370.6" cy="141.3" r="1.65"/>
<circle cx="548.7" cy="234.4" r="1.65"/>
<circle cx="195.4" cy="263.4" r="1.65"/>
<circle cx="488.6" cy="88.4" r="1.65"/>
<circle cx="267.4" cy="284.8" r="1.65"/>
<circle cx="197.9" cy="424.9" r="1.65"/>
<circle cx="517.6" cy="163.1" r="1.65"/>
<circle cx="475.6" cy="186.0" r="1.65"/>
<circle cx="260.1" cy="329.2" r="1.65"/>
<circle cx="251.1" cy="267.8" r="1.65"/>
<circle cx="517.1" cy="359.3" r="1.65"/>
<circle cx="542.0" cy="286.0" r="1.65"/>
<circle cx="274.0" cy="344.9" r="1.65"/>
<circle cx="486.8" cy="312.8" r="1.65"/>
<circle cx="457.5" cy="344.4" r="1.65"/>
<circle cx="291.7" cy="335.8" r="1.65"/>
<circle cx="359.1" cy="409.0" r="1.65"/>
<circle cx="549.5" cy="283.1" r="1.65"/>
<circle cx="342.0" cy="437.4" r="1.65"/>
<circle cx="171.0" cy="280.1" r="1.65"/>
<circle cx="463.7" cy="377.5" r="1.65"/>
<circle cx="486.7" cy="168.7" r="1.65"/>
<circle cx="436.1" cy="72.3" r="1.65"/>
<circle cx="500.6" cy="239.6" r="1.65"/>
<circle cx="435.7" cy="421.4" r="1.65"/>
<circle cx="548.0" cy="436.6" r="1.65"/>
<circle cx="481.4" cy="308.9" r="1.65"/>
<circle cx="426.0" cy="444.2" r="1.65"/>
<circle cx="312.2" cy="420.3" r="1.65"/>
<circle cx="322.8" cy="287.8" r="1.65"/>
<circle cx="492.8" cy="251.7" r="1.65"/>
<circle cx="544.6" cy="442.1" r="1.65"/>
<circle cx="513.5" cy="208.7" r="1.65"/>
<circle cx="357.6" cy="435.4" r="1.65"/>
<circle cx="527.1" cy="153.3" r="1.65"/>
<circle cx="294.3" cy="399.2" r="1.65"/>
<circle cx="407.8" cy="374.0" r="1.65"/>
<circle cx="558.7" cy="434.4" r="1.65"/>
<circle cx="302.4" cy="306.2" r="1.65"/>
<circle cx="518.1" cy="306.2" r="1.65"/>
<circle cx="308.7" cy="336.7" r="1.65"/>
<circle cx="403.4" cy="111.8" r="1.65"/>
<circle cx="329.8" cy="280.2" r="1.65"/>
<circle cx="172.9" cy="309.6" r="1.65"/>
<circle cx="496.4" cy="199.2" r="1.65"/>
<circle cx="318.5" cy="341.4" r="1.65"/>
<circle cx="319.0" cy="267.2" r="1.65"/>
<circle cx="291.7" cy="319.7" r="1.65"/>
<circle cx="518.0" cy="179.7" r="1.65"/>
<circle cx="457.1" cy="337.1" r="1.65"/>
<circle cx="201.9" cy="402.2" r="1.65"/>
<circle cx="194.7" cy="354.0" r="1.65"/>
<circle cx="378.0" cy="428.9" r="1.65"/>
<circle cx="378.2" cy="78.8" r="1.65"/>
<circle cx="354.7" cy="433.2" r="1.65"/>
<circle cx="526.6" cy="188.2" r="1.65"/>
<circle cx="412.2" cy="117.7" r="1.65"/>
<circle cx="217.6" cy="274.4" r="1.65"/>
<circle cx="459.6" cy="425.5" r="1.65"/>
<circle cx="502.2" cy="395.4" r="1.65"/>
<circle cx="505.7" cy="372.4" r="1.65"/>
<circle cx="196.6" cy="339.3" r="1.65"/>
<circle cx="519.8" cy="379.9" r="1.65"/>
<circle cx="318.8" cy="403.5" r="1.65"/>
<circle cx="548.4" cy="122.5" r="1.65"/>
<circle cx="363.8" cy="443.9" r="1.65"/>
<circle cx="531.2" cy="160.3" r="1.65"/>
<circle cx="521.1" cy="319.0" r="1.65"/>
<circle cx="480.0" cy="209.2" r="1.65"/>
<circle cx="194.3" cy="398.1" r="1.65"/>
<circle cx="278.7" cy="409.4" r="1.65"/>
<circle cx="452.6" cy="372.3" r="1.65"/>
<circle cx="345.4" cy="284.8" r="1.65"/>
<circle cx="553.9" cy="342.8" r="1.65"/>
<circle cx="558.1" cy="360.8" r="1.65"/>
<circle cx="435.7" cy="446.0" r="1.65"/>
<circle cx="362.1" cy="380.6" r="1.65"/>
<circle cx="251.7" cy="424.6" r="1.65"/>
<circle cx="381.6" cy="424.3" r="1.65"/>
<circle cx="489.0" cy="211.6" r="1.65"/>
<circle cx="466.5" cy="276.2" r="1.65"/>
<circle cx="497.0" cy="117.2" r="1.65"/>
<circle cx="527.4" cy="145.1" r="1.65"/>
<circle cx="320.7" cy="264.4" r="1.65"/>
<circle cx="555.9" cy="300.4" r="1.65"/>
<circle cx="504.8" cy="448.7" r="1.65"/>
<circle cx="364.3" cy="99.9" r="1.65"/>
<circle cx="480.4" cy="101.8" r="1.65"/>
<circle cx="372.5" cy="411.4" r="1.65"/>
<circle cx="357.9" cy="431.7" r="1.65"/>
<circle cx="278.4" cy="308.5" r="1.65"/>
<circle cx="548.1" cy="356.0" r="1.65"/>
<circle cx="182.9" cy="396.4" r="1.65"/>
<circle cx="406.0" cy="400.9" r="1.65"/>
<circle cx="377.4" cy="377.3" r="1.65"/>
<circle cx="336.1" cy="340.2" r="1.65"/>
<circle cx="353.9" cy="448.2" r="1.65"/>
<circle cx="520.4" cy="208.4" r="1.65"/>
<circle cx="319.5" cy="424.8" r="1.65"/>
<circle cx="317.4" cy="331.9" r="1.65"/>
<circle cx="557.3" cy="375.1" r="1.65"/>
<circle cx="502.1" cy="69.5" r="1.65"/>
<circle cx="311.7" cy="262.6" r="1.65"/>
<circle cx="325.6" cy="383.7" r="1.65"/>
<circle cx="390.3" cy="104.2" r="1.65"/>
<circle cx="297.3" cy="388.7" r="1.65"/>
<circle cx="445.2" cy="76.7" r="1.65"/>
<circle cx="331.1" cy="326.5" r="1.65"/>
<circle cx="360.6" cy="443.6" r="1.65"/>
<circle cx="329.7" cy="272.7" r="1.65"/>
<circle cx="237.7" cy="365.9" r="1.65"/>
<circle cx="176.2" cy="336.7" r="1.65"/>
<circle cx="379.6" cy="369.8" r="1.65"/>
<circle cx="497.9" cy="434.7" r="1.65"/>
<circle cx="188.2" cy="435.7" r="1.65"/>
<circle cx="527.8" cy="96.7" r="1.65"/>
<circle cx="268.8" cy="286.3" r="1.65"/>
<circle cx="262.9" cy="330.1" r="1.65"/>
<circle cx="313.5" cy="425.9" r="1.65"/>
<circle cx="352.5" cy="449.7" r="1.65"/>
<circle cx="243.1" cy="326.0" r="1.65"/>
<circle cx="223.0" cy="318.9" r="1.65"/>
<circle cx="341.2" cy="262.1" r="1.65"/>
<circle cx="281.9" cy="269.1" r="1.65"/>
<circle cx="195.9" cy="380.5" r="1.65"/>
<circle cx="225.3" cy="375.4" r="1.65"/>
<circle cx="440.5" cy="84.2" r="1.65"/>
<circle cx="197.2" cy="437.5" r="1.65"/>
<circle cx="207.1" cy="366.6" r="1.65"/>
<circle cx="165.8" cy="307.9" r="1.65"/>
<circle cx="483.0" cy="291.7" r="1.65"/>
<circle cx="494.1" cy="193.5" r="1.65"/>
<circle cx="292.0" cy="269.5" r="1.65"/>
<circle cx="465.6" cy="418.5" r="1.65"/>
<circle cx="559.0" cy="321.6" r="1.65"/>
<circle cx="524.2" cy="112.2" r="1.65"/>
<circle cx="398.6" cy="64.0" r="1.65"/>
<circle cx="464.0" cy="82.8" r="1.65"/>
<circle cx="473.9" cy="344.5" r="1.65"/>
<circle cx="248.1" cy="439.8" r="1.65"/>
<circle cx="366.0" cy="122.5" r="1.65"/>
<circle cx="215.8" cy="335.4" r="1.65"/>
<circle cx="243.8" cy="373.0" r="1.65"/>
<circle cx="224.1" cy="364.3" r="1.65"/>
<circle cx="479.8" cy="380.3" r="1.65"/>
<circle cx="279.6" cy="267.1" r="1.65"/>
<circle cx="466.4" cy="81.6" r="1.65"/>
<circle cx="206.6" cy="282.3" r="1.65"/>
<circle cx="359.2" cy="447.0" r="1.65"/>
<circle cx="192.9" cy="307.6" r="1.65"/>
<circle cx="494.3" cy="164.0" r="1.65"/>
<circle cx="545.9" cy="441.9" r="1.65"/>
<circle cx="288.3" cy="405.3" r="1.65"/>
<circle cx="556.8" cy="346.4" r="1.65"/>
<circle cx="509.0" cy="79.9" r="1.65"/>
<circle cx="492.2" cy="146.2" r="1.65"/>
<circle cx="387.4" cy="407.3" r="1.65"/>
<circle cx="450.5" cy="371.1" r="1.65"/>
<circle cx="219.8" cy="331.2" r="1.65"/>
<circle cx="540.5" cy="289.5" r="1.65"/>
<circle cx="175.5" cy="383.8" r="1.65"/>
<circle cx="425.8" cy="424.3" r="1.65"/>
<circle cx="329.6" cy="431.5" r="1.65"/>
<circle cx="210.6" cy="323.1" r="1.65"/>
<circle cx="363.6" cy="436.5" r="1.65"/>
<circle cx="225.7" cy="284.9" r="1.65"/>
<circle cx="444.2" cy="139.6" r="1.65"/>
<circle cx="247.6" cy="267.3" r="1.65"/>
<circle cx="509.6" cy="210.1" r="1.65"/>
<circle cx="220.5" cy="445.2" r="1.65"/>
<circle cx="216.2" cy="411.3" r="1.65"/>
<circle cx="273.0" cy="408.1" r="1.65"/>
<circle cx="556.6" cy="79.4" r="1.65"/>
<circle cx="525.4" cy="339.0" r="1.65"/>
<circle cx="484.3" cy="151.0" r="1.65"/>
<circle cx="507.8" cy="224.0" r="1.65"/>
<circle cx="425.3" cy="116.8" r="1.65"/>
<circle cx="434.4" cy="400.2" r="1.65"/>
<circle cx="256.3" cy="302.0" r="1.65"/>
<circle cx="167.5" cy="393.8" r="1.65"/>
<circle cx="542.6" cy="154.6" r="1.65"/>
<circle cx="456.8" cy="113.2" r="1.65"/>
<circle cx="521.1" cy="365.0" r="1.65"/>
<circle cx="535.1" cy="202.7" r="1.65"/>
<circle cx="416.4" cy="122.8" r="1.65"/>
<circle cx="238.5" cy="341.5" r="1.65"/>
<circle cx="511.6" cy="439.3" r="1.65"/>
<circle cx="175.8" cy="369.0" r="1.65"/>
<circle cx="492.0" cy="201.3" r="1.65"/>
<circle cx="475.1" cy="342.2" r="1.65"/>
<circle cx="327.1" cy="304.3" r="1.65"/>
<circle cx="515.3" cy="88.8" r="1.65"/>
<circle cx="300.4" cy="266.5" r="1.65"/>
<circle cx="265.8" cy="410.0" r="1.65"/>
<circle cx="538.0" cy="367.9" r="1.65"/>
<circle cx="518.8" cy="67.1" r="1.65"/>
<circle cx="475.2" cy="301.1" r="1.65"/>
<circle cx="453.1" cy="123.6" r="1.65"/>
<circle cx="552.3" cy="426.6" r="1.65"/>
<circle cx="330.0" cy="269.0" r="1.65"/>
<circle cx="484.4" cy="76.5" r="1.65"/>
<circle cx="249.5" cy="419.6" r="1.65"/>
<circle cx="549.1" cy="65.3" r="1.65"/>
<circle cx="343.8" cy="311.2" r="1.65"/>
<circle cx="526.3" cy="370.4" r="1.65"/>
<circle cx="233.8" cy="342.2" r="1.65"/>
<circle cx="557.7" cy="294.0" r="1.65"/>
<circle cx="390.6" cy="83.7" r="1.65"/>
<circle cx="212.7" cy="317.7" r="1.65"/>
<circle cx="215.4" cy="402.4" r="1.65"/>
<circle cx="199.2" cy="285.3" r="1.65"/>
<circle cx="410.9" cy="408.0" r="1.65"/>
<circle cx="515.6" cy="173.0" r="1.65"/>
<circle cx="411.6" cy="87.7" r="1.65"/>
<circle cx="490.4" cy="295.1" r="1.65"/>
<circle cx="321.9" cy="281.3" r="1.65"/>
<circle cx="265.2" cy="328.8" r="1.65"/>
<circle cx="528.1" cy="147.2" r="1.65"/>
<circle cx="542.8" cy="161.0" r="1.65"/>
<circle cx="346.8" cy="430.6" r="1.65"/>
<circle cx="235.7" cy="416.2" r="1.65"/>
<circle cx="502.0" cy="396.9" r="1.65"/>
<circle cx="261.8" cy="382.2" r="1.65"/>
<circle cx="547.6" cy="446.9" r="1.65"/>
<circle cx="531.8" cy="304.5" r="1.65"/>
<circle cx="512.0" cy="154.4" r="1.65"/>
<circle cx="507.6" cy="58.3" r="1.65"/>
<circle cx="524.6" cy="241.0" r="1.65"/>
<circle cx="283.4" cy="309.2" r="1.65"/>
<circle cx="416.3" cy="422.3" r="1.65"/>
<circle cx="214.7" cy="333.9" r="1.65"/>
<circle cx="420.3" cy="394.7" r="1.65"/>
<circle cx="517.4" cy="164.3" r="1.65"/>
<circle cx="529.9" cy="159.7" r="1.65"/>
<circle cx="508.9" cy="419.2" r="1.65"/>
<circle cx="207.4" cy="327.2" r="1.65"/>
<circle cx="548.0" cy="266.4" r="1.65"/>
<circle cx="172.0" cy="340.4" r="1.65"/>
<circle cx="492.5" cy="56.8" r="1.65"/>
<circle cx="296.5" cy="379.5" r="1.65"/>
<circle cx="482.7" cy="123.6" r="1.65"/>
<circle cx="438.1" cy="123.1" r="1.65"/>
<circle cx="442.4" cy="400.0" r="1.65"/>
<circle cx="524.7" cy="93.6" r="1.65"/>
<circle cx="530.1" cy="197.6" r="1.65"/>
<circle cx="486.9" cy="301.8" r="1.65"/>
<circle cx="233.5" cy="280.6" r="1.65"/>
<circle cx="239.0" cy="389.6" r="1.65"/>
<circle cx="259.3" cy="298.8" r="1.65"/>
<circle cx="383.7" cy="98.5" r="1.65"/>
<circle cx="543.9" cy="104.5" r="1.65"/>
<circle cx="467.9" cy="289.8" r="1.65"/>
<circle cx="168.5" cy="336.7" r="1.65"/>
<circle cx="485.3" cy="257.2" r="1.65"/>
<circle cx="537.0" cy="383.9" r="1.65"/>
<circle cx="512.9" cy="112.6" r="1.65"/>
<circle cx="507.7" cy="254.0" r="1.65"/>
<circle cx="479.6" cy="293.7" r="1.65"/>
<circle cx="275.6" cy="390.8" r="1.65"/>
<circle cx="546.4" cy="355.7" r="1.65"/>
<circle cx="501.0" cy="232.9" r="1.65"/>
<circle cx="503.9" cy="117.0" r="1.65"/>
<circle cx="188.4" cy="311.3" r="1.65"/>
<circle cx="276.8" cy="397.1" r="1.65"/>
<circle cx="201.7" cy="291.2" r="1.65"/>
<circle cx="541.6" cy="330.1" r="1.65"/>
<circle cx="510.0" cy="262.6" r="1.65"/>
<circle cx="554.8" cy="431.6" r="1.65"/>
<circle cx="509.2" cy="316.3" r="1.65"/>
<circle cx="385.0" cy="104.1" r="1.65"/>
<circle cx="498.1" cy="289.2" r="1.65"/>
<circle cx="313.7" cy="407.3" r="1.65"/>
<circle cx="240.1" cy="305.0" r="1.65"/>
<circle cx="268.3" cy="394.0" r="1.65"/>
<circle cx="517.9" cy="403.4" r="1.65"/>
<circle cx="443.7" cy="385.0" r="1.65"/>
<circle cx="495.5" cy="126.7" r="1.65"/>
<circle cx="346.6" cy="310.5" r="1.65"/>
<circle cx="496.2" cy="174.6" r="1.65"/>
<circle cx="499.0" cy="57.6" r="1.65"/>
<circle cx="210.3" cy="309.5" r="1.65"/>
<circle cx="434.7" cy="386.1" r="1.65"/>
<circle cx="399.0" cy="424.4" r="1.65"/>
<circle cx="422.5" cy="403.8" r="1.65"/>
<circle cx="211.6" cy="312.0" r="1.65"/>
<circle cx="244.0" cy="378.5" r="1.65"/>
<circle cx="307.1" cy="379.2" r="1.65"/>
<circle cx="544.7" cy="423.8" r="1.65"/>
<circle cx="482.9" cy="270.9" r="1.65"/>
<circle cx="481.6" cy="249.9" r="1.65"/>
<circle cx="291.1" cy="307.8" r="1.65"/>
<circle cx="328.9" cy="320.1" r="1.65"/>
<circle cx="271.3" cy="330.4" r="1.65"/>
<circle cx="510.6" cy="193.6" r="1.65"/>
<circle cx="310.8" cy="323.2" r="1.65"/>
<circle cx="420.6" cy="389.1" r="1.65"/>
<circle cx="406.1" cy="139.8" r="1.65"/>
<circle cx="492.8" cy="377.5" r="1.65"/>
<circle cx="510.1" cy="198.0" r="1.65"/>
<circle cx="507.5" cy="64.6" r="1.65"/>
<circle cx="558.6" cy="239.7" r="1.65"/>
<circle cx="551.8" cy="235.1" r="1.65"/>
<circle cx="259.6" cy="312.0" r="1.65"/>
<circle cx="541.4" cy="69.0" r="1.65"/>
<circle cx="506.4" cy="57.2" r="1.65"/>
<circle cx="518.1" cy="57.3" r="1.65"/>
<circle cx="174.1" cy="423.4" r="1.65"/>
<circle cx="212.1" cy="447.1" r="1.65"/>
<circle cx="404.5" cy="444.3" r="1.65"/>
<circle cx="446.8" cy="405.7" r="1.65"/>
<circle cx="494.1" cy="198.4" r="1.65"/>
<circle cx="461.7" cy="376.9" r="1.65"/>
<circle cx="216.7" cy="432.8" r="1.65"/>
<circle cx="518.1" cy="333.2" r="1.65"/>
<circle cx="517.6" cy="386.3" r="1.65"/>
<circle cx="414.3" cy="86.9" r="1.65"/>
<circle cx="340.7" cy="342.0" r="1.65"/>
<circle cx="545.1" cy="443.2" r="1.65"/>
<circle cx="556.8" cy="170.5" r="1.65"/>
<circle cx="412.7" cy="141.6" r="1.65"/>
<circle cx="526.1" cy="283.4" r="1.65"/>
<circle cx="413.8" cy="104.2" r="1.65"/>
<circle cx="359.8" cy="129.9" r="1.65"/>
<circle cx="380.6" cy="419.1" r="1.65"/>
<circle cx="511.6" cy="184.0" r="1.65"/>
<circle cx="537.2" cy="151.3" r="1.65"/>
<circle cx="525.0" cy="203.0" r="1.65"/>
<circle cx="555.2" cy="412.8" r="1.65"/>
<circle cx="547.0" cy="194.1" r="1.65"/>
<circle cx="481.6" cy="179.1" r="1.65"/>
<circle cx="465.4" cy="391.5" r="1.65"/>
<circle cx="413.1" cy="400.2" r="1.65"/>
<circle cx="511.9" cy="62.5" r="1.65"/>
<circle cx="492.6" cy="331.9" r="1.65"/>
<circle cx="400.0" cy="372.2" r="1.65"/>
<circle cx="213.3" cy="335.6" r="1.65"/>
<circle cx="166.0" cy="373.5" r="1.65"/>
<circle cx="228.7" cy="443.9" r="1.65"/>
<circle cx="538.0" cy="406.6" r="1.65"/>
<circle cx="508.1" cy="75.6" r="1.65"/>
<circle cx="170.0" cy="356.2" r="1.65"/>
<circle cx="319.3" cy="320.4" r="1.65"/>
<circle cx="533.2" cy="57.5" r="1.65"/>
<circle cx="482.7" cy="171.4" r="1.65"/>
<circle cx="331.1" cy="423.9" r="1.65"/>
<circle cx="295.4" cy="387.1" r="1.65"/>
<circle cx="510.1" cy="355.9" r="1.65"/>
<circle cx="457.4" cy="116.9" r="1.65"/>
<circle cx="553.7" cy="58.9" r="1.65"/>
<circle cx="530.9" cy="296.5" r="1.65"/>
<circle cx="178.4" cy="266.2" r="1.65"/>
<circle cx="176.8" cy="375.3" r="1.65"/>
<circle cx="399.5" cy="448.0" r="1.65"/>
<circle cx="472.7" cy="370.1" r="1.65"/>
<circle cx="350.7" cy="403.9" r="1.65"/>
<circle cx="285.5" cy="286.6" r="1.65"/>
<circle cx="555.3" cy="248.7" r="1.65"/>
<circle cx="556.1" cy="151.7" r="1.65"/>
<circle cx="547.7" cy="70.4" r="1.65"/>
<circle cx="470.8" cy="400.2" r="1.65"/>
<circle cx="515.2" cy="213.6" r="1.65"/>
<circle cx="322.8" cy="312.8" r="1.65"/>
<circle cx="457.5" cy="88.1" r="1.65"/>
<circle cx="360.8" cy="416.3" r="1.65"/>
<circle cx="235.8" cy="363.9" r="1.65"/>
<circle cx="406.7" cy="61.4" r="1.65"/>
<circle cx="527.5" cy="282.0" r="1.65"/>
<circle cx="495.8" cy="74.2" r="1.65"/>
<circle cx="298.9" cy="337.9" r="1.65"/>
<circle cx="436.6" cy="384.7" r="1.65"/>
<circle cx="192.6" cy="444.4" r="1.65"/>
<circle cx="520.3" cy="73.4" r="1.65"/>
<circle cx="314.9" cy="283.0" r="1.65"/>
<circle cx="487.7" cy="406.4" r="1.65"/>
<circle cx="448.1" cy="377.2" r="1.65"/>
<circle cx="232.6" cy="433.5" r="1.65"/>
<circle cx="502.3" cy="192.7" r="1.65"/>
<circle cx="549.1" cy="332.0" r="1.65"/>
<circle cx="501.0" cy="302.1" r="1.65"/>
<circle cx="237.3" cy="276.8" r="1.65"/>
<circle cx="437.4" cy="408.8" r="1.65"/>
<circle cx="535.9" cy="357.6" r="1.65"/>
<circle cx="365.0" cy="117.2" r="1.65"/>
<circle cx="246.8" cy="366.2" r="1.65"/>
<circle cx="426.9" cy="378.3" r="1.65"/>
<circle cx="366.6" cy="125.0" r="1.65"/>
<circle cx="193.4" cy="362.6" r="1.65"/>
<circle cx="531.8" cy="151.7" r="1.65"/>
<circle cx="303.4" cy="372.2" r="1.65"/>
<circle cx="480.8" cy="86.7" r="1.65"/>
<circle cx="543.7" cy="361.4" r="1.65"/>
<circle cx="188.7" cy="401.5" r="1.65"/>
<circle cx="331.8" cy="437.3" r="1.65"/>
<circle cx="553.2" cy="150.6" r="1.65"/>
<circle cx="537.2" cy="100.6" r="1.65"/>
<circle cx="405.3" cy="101.1" r="1.65"/>
<circle cx="277.5" cy="412.6" r="1.65"/>
<circle cx="234.6" cy="352.3" r="1.65"/>
<circle cx="289.7" cy="284.8" r="1.65"/>
<circle cx="210.2" cy="410.6" r="1.65"/>
<circle cx="231.3" cy="277.8" r="1.65"/>
<circle cx="428.3" cy="126.2" r="1.65"/>
<circle cx="459.0" cy="387.8" r="1.65"/>
<circle cx="297.4" cy="270.7" r="1.65"/>
<circle cx="473.1" cy="104.8" r="1.65"/>
<circle cx="392.8" cy="75.4" r="1.65"/>
<circle cx="505.2" cy="96.9" r="1.65"/>
<circle cx="530.4" cy="307.4" r="1.65"/>
<circle cx="341.5" cy="280.5" r="1.65"/>
<circle cx="532.4" cy="216.5" r="1.65"/>
<circle cx="300.6" cy="336.9" r="1.65"/>
<circle cx="357.5" cy="404.9" r="1.65"/>
<circle cx="375.1" cy="434.9" r="1.65"/>
<circle cx="187.6" cy="363.5" r="1.65"/>
<circle cx="526.2" cy="429.0" r="1.65"/>
<circle cx="497.7" cy="118.5" r="1.65"/>
<circle cx="503.5" cy="256.7" r="1.65"/>
<circle cx="341.9" cy="302.2" r="1.65"/>
<circle cx="541.4" cy="381.0" r="1.65"/>
<circle cx="553.4" cy="187.2" r="1.65"/>
<circle cx="528.1" cy="243.7" r="1.65"/>
<circle cx="335.8" cy="393.8" r="1.65"/>
<circle cx="551.7" cy="254.4" r="1.65"/>
<circle cx="555.6" cy="124.1" r="1.65"/>
<circle cx="477.7" cy="412.4" r="1.65"/>
<circle cx="252.3" cy="290.7" r="1.65"/>
<circle cx="538.0" cy="343.2" r="1.65"/>
<circle cx="541.4" cy="357.3" r="1.65"/>
<circle cx="221.8" cy="374.9" r="1.65"/>
<circle cx="191.7" cy="430.6" r="1.65"/>
<circle cx="497.2" cy="124.8" r="1.65"/>
<circle cx="488.2" cy="346.3" r="1.65"/>
<circle cx="283.1" cy="346.7" r="1.65"/>
<circle cx="558.2" cy="352.4" r="1.65"/>
<circle cx="236.8" cy="289.5" r="1.65"/>
<circle cx="401.6" cy="106.5" r="1.65"/>
<circle cx="521.5" cy="213.7" r="1.65"/>
<circle cx="202.7" cy="277.9" r="1.65"/>
<circle cx="490.1" cy="382.1" r="1.65"/>
<circle cx="530.3" cy="89.5" r="1.65"/>
<circle cx="310.6" cy="402.7" r="1.65"/>
<circle cx="275.2" cy="393.0" r="1.65"/>
<circle cx="401.3" cy="413.0" r="1.65"/>
<circle cx="543.4" cy="99.5" r="1.65"/>
<circle cx="321.6" cy="428.1" r="1.65"/>
<circle cx="505.3" cy="447.5" r="1.65"/>
<circle cx="296.1" cy="448.2" r="1.65"/>
<circle cx="351.4" cy="277.4" r="1.65"/>
<circle cx="473.3" cy="60.4" r="1.65"/>
<circle cx="533.4" cy="142.2" r="1.65"/>
<circle cx="198.1" cy="440.0" r="1.65"/>
<circle cx="310.6" cy="432.9" r="1.65"/>
<circle cx="193.8" cy="389.1" r="1.65"/>
<circle cx="557.1" cy="237.1" r="1.65"/>
<circle cx="240.8" cy="343.7" r="1.65"/>
<circle cx="513.9" cy="80.7" r="1.65"/>
<circle cx="379.5" cy="110.2" r="1.65"/>
<circle cx="459.0" cy="134.3" r="1.65"/>
<circle cx="184.2" cy="406.0" r="1.65"/>
<circle cx="373.3" cy="96.2" r="1.65"/>
<circle cx="333.3" cy="381.6" r="1.65"/>
<circle cx="326.6" cy="367.2" r="1.65"/>
<circle cx="467.5" cy="438.4" r="1.65"/>
<circle cx="354.0" cy="379.1" r="1.65"/>
<circle cx="311.4" cy="364.5" r="1.65"/>
<circle cx="471.5" cy="434.8" r="1.65"/>
<circle cx="373.6" cy="88.3" r="1.65"/>
<circle cx="192.5" cy="339.0" r="1.65"/>
<circle cx="463.7" cy="116.0" r="1.65"/>
<circle cx="235.1" cy="370.5" r="1.65"/>
<circle cx="268.0" cy="409.5" r="1.65"/>
<circle cx="306.0" cy="330.3" r="1.65"/>
<circle cx="399.8" cy="441.2" r="1.65"/>
<circle cx="457.5" cy="100.2" r="1.65"/>
<circle cx="531.7" cy="332.0" r="1.65"/>
<circle cx="368.7" cy="428.7" r="1.65"/>
<circle cx="315.4" cy="377.2" r="1.65"/>
<circle cx="225.0" cy="274.1" r="1.65"/>
<circle cx="501.1" cy="260.4" r="1.65"/>
<circle cx="514.8" cy="129.8" r="1.65"/>
<circle cx="218.8" cy="302.0" r="1.65"/>
<circle cx="441.6" cy="102.6" r="1.65"/>
<circle cx="317.8" cy="313.7" r="1.65"/>
<circle cx="474.0" cy="328.6" r="1.65"/>
<circle cx="510.0" cy="154.9" r="1.65"/>
<circle cx="197.7" cy="382.1" r="1.65"/>
<circle cx="190.6" cy="330.9" r="1.65"/>
<circle cx="347.4" cy="434.0" r="1.65"/>
<circle cx="552.6" cy="164.8" r="1.65"/>
<circle cx="412.9" cy="392.2" r="1.65"/>
<circle cx="544.4" cy="87.0" r="1.65"/>
<circle cx="343.4" cy="389.6" r="1.65"/>
<circle cx="511.5" cy="174.8" r="1.65"/>
<circle cx="320.8" cy="284.9" r="1.65"/>
<circle cx="202.1" cy="319.1" r="1.65"/>
<circle cx="414.0" cy="135.5" r="1.65"/>
<circle cx="302.1" cy="399.0" r="1.65"/>
<circle cx="555.3" cy="397.3" r="1.65"/>
<circle cx="506.2" cy="415.8" r="1.65"/>
<circle cx="454.7" cy="447.3" r="1.65"/>
<circle cx="425.7" cy="114.9" r="1.65"/>
<circle cx="394.7" cy="81.8" r="1.65"/>
<circle cx="189.0" cy="271.0" r="1.65"/>
<circle cx="549.3" cy="161.8" r="1.65"/>
<circle cx="486.8" cy="218.0" r="1.65"/>
<circle cx="549.9" cy="225.5" r="1.65"/>
<circle cx="543.7" cy="239.6" r="1.65"/>
<circle cx="341.7" cy="319.1" r="1.65"/>
<circle cx="208.7" cy="436.9" r="1.65"/>
<circle cx="236.3" cy="299.6" r="1.65"/>
<circle cx="227.7" cy="386.0" r="1.65"/>
<circle cx="535.5" cy="254.4" r="1.65"/>
<circle cx="472.0" cy="297.3" r="1.65"/>
<circle cx="446.7" cy="100.7" r="1.65"/>
<circle cx="245.3" cy="377.7" r="1.65"/>
<circle cx="184.2" cy="399.8" r="1.65"/>
<circle cx="472.4" cy="310.3" r="1.65"/>
<circle cx="545.7" cy="445.4" r="1.65"/>
<circle cx="523.3" cy="447.5" r="1.65"/>
<circle cx="198.3" cy="365.0" r="1.65"/>
<circle cx="250.4" cy="366.5" r="1.65"/>
<circle cx="215.5" cy="343.2" r="1.65"/>
<circle cx="531.2" cy="320.3" r="1.65"/>
<circle cx="255.7" cy="387.1" r="1.65"/>
<circle cx="239.2" cy="383.0" r="1.65"/>
<circle cx="348.9" cy="307.7" r="1.65"/>
<circle cx="291.4" cy="286.7" r="1.65"/>
<circle cx="259.5" cy="268.9" r="1.65"/>
<circle cx="477.0" cy="130.8" r="1.65"/>
<circle cx="280.4" cy="429.5" r="1.65"/>
<circle cx="300.9" cy="312.3" r="1.65"/>
<circle cx="231.7" cy="363.5" r="1.65"/>
<circle cx="465.9" cy="318.1" r="1.65"/>
<circle cx="558.6" cy="420.6" r="1.65"/>
<circle cx="486.5" cy="70.0" r="1.65"/>
<circle cx="372.0" cy="364.6" r="1.65"/>
<circle cx="557.1" cy="174.7" r="1.65"/>
<circle cx="505.6" cy="74.1" r="1.65"/>
<circle cx="499.5" cy="137.7" r="1.65"/>
<circle cx="529.7" cy="159.6" r="1.65"/>
<circle cx="506.6" cy="230.5" r="1.65"/>
<circle cx="413.2" cy="58.9" r="1.65"/>
<circle cx="253.8" cy="448.4" r="1.65"/>
<circle cx="263.4" cy="269.8" r="1.65"/>
<circle cx="270.6" cy="314.7" r="1.65"/>
<circle cx="514.7" cy="146.8" r="1.65"/>
<circle cx="549.2" cy="438.5" r="1.65"/>
<circle cx="194.9" cy="361.4" r="1.65"/>
<circle cx="394.2" cy="440.5" r="1.65"/>
<circle cx="236.1" cy="397.7" r="1.65"/>
<circle cx="514.0" cy="62.8" r="1.65"/>
<circle cx="511.9" cy="85.0" r="1.65"/>
<circle cx="407.7" cy="422.8" r="1.65"/>
<circle cx="500.2" cy="249.1" r="1.65"/>
<circle cx="168.0" cy="314.2" r="1.65"/>
<circle cx="477.5" cy="267.3" r="1.65"/>
<circle cx="513.1" cy="72.0" r="1.65"/>
<circle cx="174.0" cy="366.8" r="1.65"/>
<circle cx="279.3" cy="264.0" r="1.65"/>
<circle cx="390.4" cy="372.8" r="1.65"/>
<circle cx="471.9" cy="391.1" r="1.65"/>
<circle cx="378.4" cy="99.7" r="1.65"/>
<circle cx="353.8" cy="394.0" r="1.65"/>
<circle cx="384.3" cy="114.2" r="1.65"/>
<circle cx="387.6" cy="372.4" r="1.65"/>
<circle cx="213.8" cy="378.0" r="1.65"/>
<circle cx="184.1" cy="414.9" r="1.65"/>
<circle cx="277.0" cy="402.3" r="1.65"/>
<circle cx="216.3" cy="439.9" r="1.65"/>
<circle cx="414.8" cy="422.6" r="1.65"/>
<circle cx="505.6" cy="189.0" r="1.65"/>
<circle cx="534.6" cy="355.4" r="1.65"/>
<circle cx="330.9" cy="366.5" r="1.65"/>
<circle cx="281.5" cy="387.5" r="1.65"/>
<circle cx="263.5" cy="413.9" r="1.65"/>
<circle cx="315.8" cy="272.1" r="1.65"/>
<circle cx="359.5" cy="373.1" r="1.65"/>
<circle cx="377.3" cy="401.3" r="1.65"/>
<circle cx="328.7" cy="294.5" r="1.65"/>
<circle cx="233.5" cy="265.3" r="1.65"/>
<circle cx="298.1" cy="341.3" r="1.65"/>
<circle cx="498.2" cy="108.7" r="1.65"/>
<circle cx="558.9" cy="173.9" r="1.65"/>
<circle cx="520.1" cy="291.1" r="1.65"/>
<circle cx="182.2" cy="276.4" r="1.65"/>
<circle cx="476.1" cy="256.6" r="1.65"/>
<circle cx="451.2" cy="83.0" r="1.65"/>
<circle cx="493.9" cy="398.0" r="1.65"/>
<circle cx="288.6" cy="408.2" r="1.65"/>
<circle cx="549.7" cy="231.2" r="1.65"/>
<circle cx="373.1" cy="85.4" r="1.65"/>
<circle cx="500.6" cy="270.9" r="1.65"/>
<circle cx="508.7" cy="432.2" r="1.65"/>
<circle cx="514.2" cy="226.3" r="1.65"/>
<circle cx="210.0" cy="437.7" r="1.65"/>
<circle cx="384.0" cy="58.5" r="1.65"/>
<circle cx="360.7" cy="59.4" r="1.65"/>
<circle cx="501.8" cy="368.5" r="1.65"/>
<circle cx="520.9" cy="240.5" r="1.65"/>
<circle cx="352.7" cy="269.7" r="1.65"/>
<circle cx="515.8" cy="82.4" r="1.65"/>
<circle cx="483.5" cy="73.9" r="1.65"/>
<circle cx="545.4" cy="279.8" r="1.65"/>
<circle cx="484.1" cy="110.2" r="1.65"/>
<circle cx="526.3" cy="261.9" r="1.65"/>
<circle cx="435.3" cy="434.6" r="1.65"/>
<circle cx="342.4" cy="336.1" r="1.65"/>
<circle cx="255.0" cy="371.6" r="1.65"/>
<circle cx="425.0" cy="64.6" r="1.65"/>
<circle cx="440.3" cy="441.7" r="1.65"/>
<circle cx="207.9" cy="388.5" r="1.65"/>
<circle cx="232.7" cy="330.1" r="1.65"/>
<circle cx="260.2" cy="277.4" r="1.65"/>
<circle cx="462.5" cy="285.2" r="1.65"/>
<circle cx="558.4" cy="384.6" r="1.65"/>
<circle cx="397.9" cy="95.3" r="1.65"/>
<circle cx="545.3" cy="436.8" r="1.65"/>
<circle cx="369.4" cy="126.2" r="1.65"/>
<circle cx="419.5" cy="85.4" r="1.65"/>
<circle cx="260.1" cy="307.0" r="1.65"/>
<circle cx="261.5" cy="416.7" r="1.65"/>
<circle cx="476.1" cy="323.0" r="1.65"/>
<circle cx="367.5" cy="378.1" r="1.65"/>
<circle cx="176.6" cy="265.3" r="1.65"/>
<circle cx="462.2" cy="63.2" r="1.65"/>
<circle cx="178.1" cy="402.4" r="1.65"/>
<circle cx="430.7" cy="75.3" r="1.65"/>
<circle cx="265.1" cy="322.0" r="1.65"/>
<circle cx="407.6" cy="448.1" r="1.65"/>
<circle cx="331.4" cy="299.1" r="1.65"/>
<circle cx="251.3" cy="324.1" r="1.65"/>
<circle cx="472.3" cy="410.9" r="1.65"/>
<circle cx="449.1" cy="422.8" r="1.65"/>
<circle cx="465.7" cy="129.8" r="1.65"/>
<circle cx="546.9" cy="247.1" r="1.65"/>
<circle cx="282.4" cy="291.6" r="1.65"/>
<circle cx="277.6" cy="420.6" r="1.65"/>
<circle cx="198.7" cy="337.6" r="1.65"/>
<circle cx="181.3" cy="411.9" r="1.65"/>
<circle cx="408.7" cy="446.5" r="1.65"/>
<circle cx="469.4" cy="307.8" r="1.65"/>
<circle cx="171.9" cy="366.3" r="1.65"/>
<circle cx="477.1" cy="246.4" r="1.65"/>
<circle cx="499.4" cy="72.2" r="1.65"/>
<circle cx="446.2" cy="382.3" r="1.65"/>
<circle cx="541.5" cy="324.1" r="1.65"/>
<circle cx="206.1" cy="412.0" r="1.65"/>
<circle cx="541.1" cy="305.7" r="1.65"/>
<circle cx="166.4" cy="304.0" r="1.65"/>
<circle cx="223.4" cy="347.9" r="1.65"/>
<circle cx="427.5" cy="437.4" r="1.65"/>
<circle cx="463.8" cy="449.2" r="1.65"/>
<circle cx="432.7" cy="77.0" r="1.65"/>
<circle cx="454.3" cy="382.3" r="1.65"/>
<circle cx="392.0" cy="104.9" r="1.65"/>
<circle cx="554.6" cy="417.2" r="1.65"/>
<circle cx="262.5" cy="443.7" r="1.65"/>
<circle cx="169.3" cy="424.0" r="1.65"/>
<circle cx="303.2" cy="371.1" r="1.65"/>
<circle cx="245.4" cy="422.3" r="1.65"/>
<circle cx="246.3" cy="359.1" r="1.65"/>
<circle cx="487.4" cy="127.3" r="1.65"/>
<circle cx="189.3" cy="305.3" r="1.65"/>
<circle cx="328.7" cy="392.0" r="1.65"/>
<circle cx="430.1" cy="121.3" r="1.65"/>
<circle cx="460.8" cy="62.8" r="1.65"/>
<circle cx="508.4" cy="298.2" r="1.65"/>
<circle cx="273.6" cy="377.6" r="1.65"/>
<circle cx="182.4" cy="324.9" r="1.65"/>
<circle cx="528.8" cy="159.6" r="1.65"/>
<circle cx="475.7" cy="263.9" r="1.65"/>
<circle cx="178.5" cy="398.9" r="1.65"/>
<circle cx="513.5" cy="213.1" r="1.65"/>
<circle cx="223.3" cy="409.1" r="1.65"/>
<circle cx="216.8" cy="277.3" r="1.65"/>
<circle cx="540.0" cy="196.1" r="1.65"/>
<circle cx="436.4" cy="63.0" r="1.65"/>
<circle cx="516.9" cy="200.6" r="1.65"/>
<circle cx="548.4" cy="213.8" r="1.65"/>
<circle cx="183.8" cy="430.4" r="1.65"/>
<circle cx="305.1" cy="278.3" r="1.65"/>
<circle cx="303.2" cy="264.7" r="1.65"/>
<circle cx="478.3" cy="412.1" r="1.65"/>
<circle cx="167.4" cy="279.3" r="1.65"/>
<circle cx="503.9" cy="114.4" r="1.65"/>
<circle cx="219.0" cy="305.2" r="1.65"/>
<circle cx="431.7" cy="382.4" r="1.65"/>
<circle cx="556.3" cy="267.7" r="1.65"/>
<circle cx="196.4" cy="404.6" r="1.65"/>
<circle cx="530.6" cy="340.7" r="1.65"/>
<circle cx="392.5" cy="412.9" r="1.65"/>
<circle cx="181.7" cy="444.8" r="1.65"/>
<circle cx="456.9" cy="429.0" r="1.65"/>
<circle cx="509.3" cy="226.6" r="1.65"/>
<circle cx="555.5" cy="365.4" r="1.65"/>
<circle cx="492.2" cy="150.2" r="1.65"/>
<circle cx="267.6" cy="370.4" r="1.65"/>
<circle cx="382.9" cy="115.6" r="1.65"/>
<circle cx="470.5" cy="391.2" r="1.65"/>
<circle cx="274.4" cy="449.5" r="1.65"/>
<circle cx="242.6" cy="360.9" r="1.65"/>
<circle cx="447.0" cy="375.4" r="1.65"/>
<circle cx="482.8" cy="408.7" r="1.65"/>
<circle cx="483.3" cy="145.0" r="1.65"/>
<circle cx="179.7" cy="442.8" r="1.65"/>
<circle cx="331.2" cy="265.8" r="1.65"/>
<circle cx="515.8" cy="277.3" r="1.65"/>
<circle cx="241.4" cy="319.7" r="1.65"/>
<circle cx="384.0" cy="431.9" r="1.65"/>
<circle cx="298.8" cy="417.3" r="1.65"/>
<circle cx="487.0" cy="203.3" r="1.65"/>
<circle cx="536.3" cy="436.2" r="1.65"/>
<circle cx="547.4" cy="365.6" r="1.65"/>
<circle cx="231.1" cy="280.4" r="1.65"/>
<circle cx="281.6" cy="382.4" r="1.65"/>
<circle cx="202.1" cy="277.5" r="1.65"/>
<circle cx="553.8" cy="372.3" r="1.65"/>
<circle cx="548.9" cy="411.0" r="1.65"/>
<circle cx="499.0" cy="270.9" r="1.65"/>
<circle cx="396.2" cy="120.6" r="1.65"/>
<circle cx="313.1" cy="278.2" r="1.65"/>
<circle cx="205.3" cy="409.5" r="1.65"/>
<circle cx="420.6" cy="411.1" r="1.65"/>
<circle cx="270.3" cy="315.6" r="1.65"/>
<circle cx="386.4" cy="410.5" r="1.65"/>
<circle cx="541.4" cy="259.5" r="1.65"/>
<circle cx="449.0" cy="83.8" r="1.65"/>
<circle cx="476.6" cy="132.9" r="1.65"/>
<circle cx="207.9" cy="283.9" r="1.65"/>
<circle cx="205.3" cy="393.3" r="1.65"/>
<circle cx="256.1" cy="400.2" r="1.65"/>
<circle cx="248.3" cy="420.4" r="1.65"/>
<circle cx="275.3" cy="374.4" r="1.65"/>
<circle cx="532.3" cy="159.1" r="1.65"/>
<circle cx="394.9" cy="425.4" r="1.65"/>
<circle cx="236.8" cy="432.7" r="1.65"/>
<circle cx="434.3" cy="423.7" r="1.65"/>
<circle cx="263.6" cy="305.7" r="1.65"/>
<circle cx="447.4" cy="120.5" r="1.65"/>
<circle cx="226.7" cy="311.1" r="1.65"/>
<circle cx="269.4" cy="328.2" r="1.65"/>
<circle cx="266.6" cy="315.6" r="1.65"/>
<circle cx="527.0" cy="250.5" r="1.65"/>
<circle cx="503.5" cy="316.3" r="1.65"/>
<circle cx="218.3" cy="405.3" r="1.65"/>
<circle cx="507.2" cy="315.7" r="1.65"/>
<circle cx="558.1" cy="430.0" r="1.65"/>
<circle cx="513.7" cy="312.6" r="1.65"/>
<circle cx="305.1" cy="382.9" r="1.65"/>
<circle cx="430.8" cy="106.7" r="1.65"/>
<circle cx="352.1" cy="290.8" r="1.65"/>
<circle cx="523.4" cy="281.0" r="1.65"/>
<circle cx="502.6" cy="348.2" r="1.65"/>
<circle cx="358.9" cy="395.9" r="1.65"/>
<circle cx="227.6" cy="367.6" r="1.65"/>
<circle cx="464.0" cy="107.7" r="1.65"/>
<circle cx="522.2" cy="406.6" r="1.65"/>
<circle cx="526.7" cy="107.9" r="1.65"/>
<circle cx="493.4" cy="321.3" r="1.65"/>
<circle cx="463.9" cy="72.8" r="1.65"/>
<circle cx="540.2" cy="332.1" r="1.65"/>
<circle cx="178.6" cy="331.0" r="1.65"/>
<circle cx="517.9" cy="124.2" r="1.65"/>
<circle cx="464.3" cy="125.0" r="1.65"/>
<circle cx="460.2" cy="338.4" r="1.65"/>
<circle cx="279.6" cy="318.2" r="1.65"/>
<circle cx="348.2" cy="314.4" r="1.65"/>
<circle cx="482.9" cy="66.8" r="1.65"/>
<circle cx="519.1" cy="68.8" r="1.65"/>
<circle cx="543.2" cy="377.0" r="1.65"/>
<circle cx="253.6" cy="415.4" r="1.65"/>
<circle cx="486.6" cy="340.5" r="1.65"/>
<circle cx="502.4" cy="309.7" r="1.65"/>
<circle cx="529.7" cy="126.8" r="1.65"/>
<circle cx="317.0" cy="385.5" r="1.65"/>
<circle cx="256.7" cy="335.9" r="1.65"/>
<circle cx="534.6" cy="202.6" r="1.65"/>
<circle cx="508.8" cy="419.4" r="1.65"/>
<circle cx="442.2" cy="422.7" r="1.65"/>
<circle cx="186.9" cy="365.0" r="1.65"/>
<circle cx="204.3" cy="419.4" r="1.65"/>
<circle cx="383.9" cy="379.5" r="1.65"/>
<circle cx="479.4" cy="314.3" r="1.65"/>
<circle cx="472.4" cy="298.9" r="1.65"/>
<circle cx="496.5" cy="413.7" r="1.65"/>
<circle cx="363.5" cy="131.6" r="1.65"/>
<circle cx="222.4" cy="432.2" r="1.65"/>
<circle cx="349.1" cy="316.8" r="1.65"/>
<circle cx="547.3" cy="262.0" r="1.65"/>
<circle cx="435.7" cy="378.7" r="1.65"/>
<circle cx="513.0" cy="131.9" r="1.65"/>
<circle cx="333.2" cy="296.7" r="1.65"/>
<circle cx="475.8" cy="346.4" r="1.65"/>
<circle cx="173.6" cy="408.3" r="1.65"/>
<circle cx="493.6" cy="268.5" r="1.65"/>
<circle cx="509.2" cy="165.6" r="1.65"/>
<circle cx="500.2" cy="141.4" r="1.65"/>
<circle cx="410.4" cy="112.6" r="1.65"/>
<circle cx="441.5" cy="132.1" r="1.65"/>
<circle cx="538.8" cy="77.8" r="1.65"/>
<circle cx="300.5" cy="298.1" r="1.65"/>
<circle cx="340.4" cy="305.0" r="1.65"/>
<circle cx="506.5" cy="149.0" r="1.65"/>
<circle cx="299.4" cy="445.7" r="1.65"/>
<circle cx="474.3" cy="260.3" r="1.65"/>
<circle cx="215.9" cy="351.3" r="1.65"/>
<circle cx="509.1" cy="363.9" r="1.65"/>
<circle cx="179.3" cy="432.3" r="1.65"/>
<circle cx="224.0" cy="438.5" r="1.65"/>
<circle cx="171.2" cy="335.2" r="1.65"/>
<circle cx="212.4" cy="373.5" r="1.65"/>
<circle cx="504.1" cy="208.0" r="1.65"/>
<circle cx="548.0" cy="94.1" r="1.65"/>
<circle cx="412.0" cy="439.3" r="1.65"/>
<circle cx="497.9" cy="441.9" r="1.65"/>
<circle cx="343.2" cy="317.7" r="1.65"/>
<circle cx="399.0" cy="87.7" r="1.65"/>
<circle cx="513.1" cy="285.2" r="1.65"/>
<circle cx="552.4" cy="255.2" r="1.65"/>
<circle cx="326.9" cy="306.0" r="1.65"/>
<circle cx="195.2" cy="381.1" r="1.65"/>
<circle cx="469.7" cy="304.7" r="1.65"/>
<circle cx="203.5" cy="323.8" r="1.65"/>
<circle cx="289.2" cy="314.3" r="1.65"/>
<circle cx="557.5" cy="203.1" r="1.65"/>
<circle cx="248.2" cy="279.9" r="1.65"/>
<circle cx="518.6" cy="420.9" r="1.65"/>
<circle cx="351.5" cy="271.0" r="1.65"/>
<circle cx="363.9" cy="376.2" r="1.65"/>
<circle cx="333.2" cy="313.0" r="1.65"/>
<circle cx="194.6" cy="395.9" r="1.65"/>
<circle cx="535.6" cy="242.5" r="1.65"/>
<circle cx="303.0" cy="266.8" r="1.65"/>
<circle cx="230.0" cy="276.8" r="1.65"/>
<circle cx="474.0" cy="129.2" r="1.65"/>
<circle cx="395.1" cy="105.4" r="1.65"/>
<circle cx="437.1" cy="387.8" r="1.65"/>
<circle cx="366.6" cy="417.5" r="1.65"/>
<circle cx="478.1" cy="366.5" r="1.65"/>
<circle cx="233.9" cy="300.7" r="1.65"/>
<circle cx="340.6" cy="424.6" r="1.65"/>
<circle cx="540.6" cy="444.7" r="1.65"/>
<circle cx="317.7" cy="423.5" r="1.65"/>
<circle cx="530.7" cy="270.5" r="1.65"/>
<circle cx="353.8" cy="423.7" r="1.65"/>
<circle cx="539.1" cy="444.1" r="1.65"/>
<circle cx="411.2" cy="75.0" r="1.65"/>
<circle cx="368.3" cy="417.7" r="1.65"/>
<circle cx="404.7" cy="365.0" r="1.65"/>
<circle cx="540.0" cy="257.3" r="1.65"/>
<circle cx="464.7" cy="285.2" r="1.65"/>
<circle cx="368.6" cy="368.1" r="1.65"/>
<circle cx="525.0" cy="62.1" r="1.65"/>
<circle cx="553.6" cy="89.6" r="1.65"/>
<circle cx="485.2" cy="257.4" r="1.65"/>
<circle cx="490.1" cy="146.4" r="1.65"/>
<circle cx="469.8" cy="99.6" r="1.65"/>
<circle cx="487.3" cy="63.2" r="1.65"/>
<circle cx="261.0" cy="331.3" r="1.65"/>
<circle cx="180.4" cy="58.6" r="1.65"/>
<circle cx="197.4" cy="57.1" r="1.65"/>
<circle cx="214.3" cy="61.4" r="1.65"/>
<circle cx="207.4" cy="71.4" r="1.65"/>
<circle cx="219.3" cy="76.4" r="1.65"/>
<circle cx="229.6" cy="76.4" r="1.65"/>
<circle cx="238.3" cy="66.9" r="1.65"/>
<circle cx="245.4" cy="58.6" r="1.65"/>
<circle cx="240.7" cy="68.6" r="1.65"/>
<circle cx="210.3" cy="82.6" r="1.65"/>
<circle cx="199.3" cy="90.4" r="1.65"/>
<circle cx="190.3" cy="89.3" r="1.65"/>
<circle cx="185.4" cy="87.4" r="1.65"/>
<circle cx="180.4" cy="84.3" r="1.65"/>
<circle cx="198.6" cy="100.3" r="1.65"/>
<circle cx="178.6" cy="101.4" r="1.65"/>
<circle cx="193.6" cy="110.7" r="1.65"/>
<circle cx="208.6" cy="108.3" r="1.65"/>
<circle cx="197.4" cy="114.3" r="1.65"/>
<circle cx="197.4" cy="125.0" r="1.65"/>
<circle cx="188.3" cy="128.3" r="1.65"/>
<circle cx="222.1" cy="108.3" r="1.65"/>
<circle cx="234.3" cy="96.4" r="1.65"/>
<circle cx="243.6" cy="89.3" r="1.65"/>
<circle cx="218.6" cy="98.6" r="1.65"/>
<circle cx="215.4" cy="103.6" r="1.65"/>
<circle cx="231.4" cy="106.4" r="1.65"/>
<circle cx="165.4" cy="122.6" r="1.65"/>
<circle cx="170.7" cy="131.4" r="1.65"/>
<circle cx="179.3" cy="138.6" r="1.65"/>
<circle cx="177.4" cy="154.6" r="1.65"/>
<circle cx="166.0" cy="157.6" r="1.65"/>
<circle cx="183.1" cy="170.7" r="1.65"/>
<circle cx="172.7" cy="183.6" r="1.65"/>
<circle cx="166.2" cy="178.6" r="1.65"/>
<circle cx="170.3" cy="196.4" r="1.65"/>
<circle cx="174.3" cy="203.6" r="1.65"/>
<circle cx="175.4" cy="209.3" r="1.65"/>
<circle cx="185.4" cy="153.3" r="1.65"/>
<circle cx="197.6" cy="174.5" r="1.65"/>
<circle cx="226.4" cy="131.4" r="1.65"/>
<circle cx="231.4" cy="131.4" r="1.65"/>
<circle cx="237.6" cy="130.4" r="1.65"/>
<circle cx="240.4" cy="138.6" r="1.65"/>
<circle cx="241.4" cy="149.3" r="1.65"/>
<circle cx="222.4" cy="142.9" r="1.65"/>
<circle cx="220.4" cy="145.7" r="1.65"/>
<circle cx="207.9" cy="139.6" r="1.65"/>
<circle cx="210.3" cy="158.6" r="1.65"/>
<circle cx="215.4" cy="170.3" r="1.65"/>
<circle cx="218.6" cy="189.3" r="1.65"/>
<circle cx="229.6" cy="199.6" r="1.65"/>
<circle cx="206.4" cy="201.1" r="1.65"/>
<circle cx="198.6" cy="192.4" r="1.65"/>
<circle cx="194.3" cy="194.6" r="1.65"/>
<circle cx="206.4" cy="216.4" r="1.65"/>
<circle cx="218.6" cy="226.4" r="1.65"/>
<circle cx="218.6" cy="237.1" r="1.65"/>
<circle cx="241.4" cy="201.4" r="1.65"/>
<circle cx="244.3" cy="185.0" r="1.65"/>
<circle cx="252.1" cy="180.7" r="1.65"/>
<circle cx="238.3" cy="184.3" r="1.65"/>
<circle cx="247.4" cy="213.3" r="1.65"/>
<circle cx="260.0" cy="216.4" r="1.65"/>
<circle cx="240.0" cy="239.3" r="1.65"/>
<circle cx="245.4" cy="238.3" r="1.65"/>
<circle cx="255.4" cy="232.9" r="1.65"/>
<circle cx="260.0" cy="229.3" r="1.65"/>
<circle cx="248.6" cy="243.6" r="1.65"/>
<circle cx="267.2" cy="178.3" r="1.65"/>
<circle cx="258.6" cy="190.8" r="1.65"/>
<circle cx="276.6" cy="190.8" r="1.65"/>
<circle cx="296.3" cy="168.4" r="1.65"/>
<circle cx="299.8" cy="182.6" r="1.65"/>
<circle cx="304.6" cy="191.7" r="1.65"/>
<circle cx="300.6" cy="164.2" r="1.65"/>
<circle cx="305.4" cy="173.2" r="1.65"/>
<circle cx="323.8" cy="167.7" r="1.65"/>
<circle cx="330.6" cy="166.6" r="1.65"/>
<circle cx="335.4" cy="164.2" r="1.65"/>
<circle cx="332.9" cy="179.2" r="1.65"/>
<circle cx="336.3" cy="196.3" r="1.65"/>
<circle cx="323.8" cy="182.6" r="1.65"/>
<circle cx="339.2" cy="191.7" r="1.65"/>
<circle cx="344.4" cy="186.9" r="1.65"/>
<circle cx="349.5" cy="175.7" r="1.65"/>
<circle cx="326.3" cy="202.3" r="1.65"/>
<circle cx="319.5" cy="215.2" r="1.65"/>
<circle cx="309.2" cy="229.8" r="1.65"/>
<circle cx="304.6" cy="235.3" r="1.65"/>
<circle cx="301.5" cy="238.7" r="1.65"/>
<circle cx="250.0" cy="215.2" r="1.65"/>
<circle cx="262.4" cy="216.9" r="1.65"/>
<circle cx="272.3" cy="205.8" r="1.65"/>
<circle cx="273.2" cy="230.6" r="1.65"/>
<circle cx="286.0" cy="236.6" r="1.65"/>
<circle cx="262.9" cy="225.5" r="1.65"/>
<circle cx="259.4" cy="229.8" r="1.65"/>
<circle cx="256.0" cy="233.2" r="1.65"/>
<circle cx="273.7" cy="220.3" r="1.65"/>
<circle cx="272.0" cy="235.8" r="1.65"/>
<circle cx="262.4" cy="238.4" r="1.65"/>
<circle cx="279.5" cy="241.8" r="1.65"/>
<circle cx="287.4" cy="243.5" r="1.65"/>
<circle cx="287.7" cy="216.9" r="1.65"/>
<circle cx="295.5" cy="220.7" r="1.65"/>
<circle cx="304.9" cy="228.9" r="1.65"/>
<circle cx="305.4" cy="224.6" r="1.65"/>
<circle cx="307.5" cy="235.3" r="1.65"/>
<circle cx="336.3" cy="216.4" r="1.65"/>
<circle cx="332.4" cy="226.3" r="1.65"/>
<circle cx="330.6" cy="240.4" r="1.65"/>
<circle cx="339.2" cy="236.3" r="1.65"/>
<circle cx="345.2" cy="233.2" r="1.65"/>
<circle cx="345.2" cy="238.7" r="1.65"/>
<circle cx="349.2" cy="238.4" r="1.65"/>
<circle cx="355.0" cy="238.0" r="1.65"/>
<circle cx="373.4" cy="158.6" r="1.65"/>
<circle cx="361.4" cy="162.5" r="1.65"/>
<circle cx="360.9" cy="173.2" r="1.65"/>
<circle cx="360.2" cy="186.5" r="1.65"/>
<circle cx="361.4" cy="194.6" r="1.65"/>
<circle cx="352.0" cy="183.5" r="1.65"/>
<circle cx="368.3" cy="191.5" r="1.65"/>
<circle cx="376.0" cy="201.5" r="1.65"/>
<circle cx="356.3" cy="197.7" r="1.65"/>
<circle cx="358.0" cy="209.2" r="1.65"/>
<circle cx="352.0" cy="217.8" r="1.65"/>
<circle cx="362.3" cy="205.8" r="1.65"/>
<circle cx="388.9" cy="192.4" r="1.65"/>
<circle cx="379.5" cy="183.5" r="1.65"/>
<circle cx="375.7" cy="182.6" r="1.65"/>
<circle cx="380.3" cy="188.3" r="1.65"/>
<circle cx="391.5" cy="175.7" r="1.65"/>
<circle cx="401.8" cy="174.5" r="1.65"/>
<circle cx="391.1" cy="200.6" r="1.65"/>
<circle cx="396.3" cy="191.2" r="1.65"/>
<circle cx="396.6" cy="181.7" r="1.65"/>
<circle cx="403.5" cy="199.4" r="1.65"/>
<circle cx="392.3" cy="208.3" r="1.65"/>
<circle cx="383.7" cy="215.2" r="1.65"/>
<circle cx="405.2" cy="187.7" r="1.65"/>
<circle cx="409.5" cy="186.9" r="1.65"/>
<circle cx="413.8" cy="188.3" r="1.65"/>
<circle cx="401.8" cy="186.5" r="1.65"/>
<circle cx="406.0" cy="188.3" r="1.65"/>
<circle cx="410.3" cy="174.5" r="1.65"/>
<circle cx="428.3" cy="177.4" r="1.65"/>
<circle cx="406.9" cy="183.5" r="1.65"/>
<circle cx="411.2" cy="176.6" r="1.65"/>
<circle cx="422.3" cy="161.7" r="1.65"/>
<circle cx="439.5" cy="169.4" r="1.65"/>
<circle cx="441.2" cy="188.3" r="1.65"/>
<circle cx="454.6" cy="182.6" r="1.65"/>
<circle cx="426.6" cy="193.4" r="1.65"/>
<circle cx="444.6" cy="204.6" r="1.65"/>
<circle cx="448.1" cy="204.6" r="1.65"/>
<circle cx="403.5" cy="218.6" r="1.65"/>
<circle cx="406.6" cy="224.6" r="1.65"/>
<circle cx="407.8" cy="236.6" r="1.65"/>
<circle cx="402.6" cy="204.6" r="1.65"/>
<circle cx="406.6" cy="214.3" r="1.65"/>
<circle cx="413.4" cy="201.5" r="1.65"/>
<circle cx="410.3" cy="207.5" r="1.65"/>
<circle cx="412.0" cy="207.5" r="1.65"/>
<circle cx="409.5" cy="207.5" r="1.65"/>
<circle cx="412.0" cy="220.3" r="1.65"/>
<circle cx="418.1" cy="218.6" r="1.65"/>
<circle cx="416.9" cy="222.1" r="1.65"/>
<circle cx="410.0" cy="231.5" r="1.65"/>
<circle cx="430.6" cy="206.6" r="1.65"/>
<circle cx="427.5" cy="215.2" r="1.65"/>
<circle cx="434.9" cy="219.8" r="1.65"/>
<circle cx="438.3" cy="226.7" r="1.65"/>
<circle cx="427.5" cy="238.0" r="1.65"/>
<circle cx="423.2" cy="246.1" r="1.65"/>
<circle cx="446.4" cy="229.4" r="1.65"/>
<circle cx="446.0" cy="240.1" r="1.65"/>
<circle cx="364.4" cy="232.3" r="1.65"/>
<circle cx="357.1" cy="238.7" r="1.65"/>
<circle cx="352.0" cy="238.7" r="1.65"/>
<circle cx="382.9" cy="226.3" r="1.65"/>
<circle cx="381.2" cy="234.1" r="1.65"/>
<circle cx="388.9" cy="240.1" r="1.65"/>
<circle cx="283.3" cy="70.2" r="1.65"/>
<circle cx="292.7" cy="58.7" r="1.65"/>
<circle cx="301.1" cy="68.5" r="1.65"/>
<circle cx="305.3" cy="65.6" r="1.65"/>
<circle cx="321.4" cy="67.4" r="1.65"/>
<circle cx="335.4" cy="60.7" r="1.65"/>
<circle cx="322.1" cy="60.4" r="1.65"/>
<circle cx="329.1" cy="56.2" r="1.65"/>
<circle cx="277.3" cy="59.3" r="1.65"/>
<circle cx="268.2" cy="73.3" r="1.65"/>
<circle cx="297.3" cy="74.4" r="1.65"/>
<circle cx="269.6" cy="61.5" r="1.65"/>
<circle cx="276.6" cy="84.9" r="1.65"/>
<circle cx="282.2" cy="91.9" r="1.65"/>
<circle cx="292.0" cy="92.6" r="1.65"/>
<circle cx="298.3" cy="84.9" r="1.65"/>
<circle cx="293.4" cy="83.1" r="1.65"/>
<circle cx="334.0" cy="76.5" r="1.65"/>
<circle cx="342.4" cy="76.5" r="1.65"/>
<circle cx="324.9" cy="85.6" r="1.65"/>
<circle cx="314.4" cy="84.5" r="1.65"/>
<circle cx="301.1" cy="90.1" r="1.65"/>
<circle cx="297.6" cy="98.2" r="1.65"/>
<circle cx="327.0" cy="76.5" r="1.65"/>
<circle cx="320.0" cy="88.4" r="1.65"/>
<circle cx="313.0" cy="101.0" r="1.65"/>
<circle cx="342.4" cy="62.5" r="1.65"/>
<circle cx="352.2" cy="66.0" r="1.65"/>
<circle cx="347.3" cy="58.3" r="1.65"/>
<circle cx="349.4" cy="61.1" r="1.65"/>
<circle cx="355.0" cy="66.0" r="1.65"/>
<circle cx="355.0" cy="77.9" r="1.65"/>
<circle cx="347.3" cy="84.5" r="1.65"/>
<circle cx="338.9" cy="93.3" r="1.65"/>
<circle cx="343.1" cy="96.5" r="1.65"/>
<circle cx="294.1" cy="99.6" r="1.65"/>
<circle cx="306.0" cy="91.2" r="1.65"/>
<circle cx="309.1" cy="100.3" r="1.65"/>
<circle cx="310.9" cy="100.3" r="1.65"/>
<circle cx="270.3" cy="86.3" r="1.65"/>
<circle cx="272.4" cy="90.5" r="1.65"/>
<circle cx="271.7" cy="99.9" r="1.65"/>
<circle cx="276.6" cy="105.5" r="1.65"/>
<circle cx="286.4" cy="99.9" r="1.65"/>
<circle cx="278.7" cy="111.8" r="1.65"/>
<circle cx="281.5" cy="117.1" r="1.65"/>
<circle cx="278.0" cy="123.7" r="1.65"/>
<circle cx="268.9" cy="120.2" r="1.65"/>
<circle cx="271.7" cy="125.1" r="1.65"/>
<circle cx="274.5" cy="132.8" r="1.65"/>
<circle cx="274.5" cy="137.0" r="1.65"/>
<circle cx="293.4" cy="100.6" r="1.65"/>
<circle cx="310.2" cy="100.6" r="1.65"/>
<circle cx="328.4" cy="106.2" r="1.65"/>
<circle cx="343.1" cy="108.3" r="1.65"/>
<circle cx="356.4" cy="109.0" r="1.65"/>
<circle cx="303.9" cy="109.0" r="1.65"/>
<circle cx="306.7" cy="115.3" r="1.65"/>
<circle cx="318.6" cy="97.1" r="1.65"/>
<circle cx="339.6" cy="111.8" r="1.65"/>
<circle cx="339.6" cy="116.3" r="1.65"/>
<circle cx="318.6" cy="119.5" r="1.65"/>
<circle cx="313.0" cy="135.6" r="1.65"/>
<circle cx="301.5" cy="141.2" r="1.65"/>
<circle cx="315.5" cy="139.5" r="1.65"/>
<circle cx="318.6" cy="107.6" r="1.65"/>
<circle cx="314.4" cy="111.5" r="1.65"/>
<circle cx="323.5" cy="134.5" r="1.65"/>
<circle cx="326.3" cy="129.3" r="1.65"/>
<circle cx="343.1" cy="134.6" r="1.65"/>
<circle cx="352.2" cy="127.5" r="1.65"/>
<circle cx="351.5" cy="102.0" r="1.65"/>
<circle cx="385.2" cy="245.6" r="1.65"/>
<circle cx="388.7" cy="240.7" r="1.65"/>
<circle cx="395.7" cy="244.9" r="1.65"/>
<circle cx="404.8" cy="245.6" r="1.65"/>
<circle cx="402.7" cy="250.5" r="1.65"/>
<circle cx="400.6" cy="242.1" r="1.65"/>
<circle cx="404.8" cy="240.0" r="1.65"/>
<circle cx="396.4" cy="246.7" r="1.65"/>
<circle cx="427.9" cy="240.0" r="1.65"/>
<circle cx="424.4" cy="246.3" r="1.65"/>
<circle cx="433.5" cy="255.1" r="1.65"/>
<circle cx="440.5" cy="257.5" r="1.65"/>
<circle cx="387.3" cy="267.3" r="1.65"/>
<circle cx="403.4" cy="265.5" r="1.65"/>
<circle cx="406.9" cy="265.5" r="1.65"/>
<circle cx="416.3" cy="265.5" r="1.65"/>
<circle cx="396.4" cy="263.1" r="1.65"/>
<circle cx="414.3" cy="270.1" r="1.65"/>
<circle cx="408.3" cy="280.6" r="1.65"/>
<circle cx="414.6" cy="290.1" r="1.65"/>
<circle cx="405.5" cy="284.5" r="1.65"/>
<circle cx="372.6" cy="275.3" r="1.65"/>
<circle cx="370.9" cy="283.4" r="1.65"/>
<circle cx="384.5" cy="291.5" r="1.65"/>
<circle cx="388.0" cy="296.0" r="1.65"/>
<circle cx="445.4" cy="265.5" r="1.65"/>
<circle cx="432.5" cy="281.3" r="1.65"/>
<circle cx="442.6" cy="281.3" r="1.65"/>
<circle cx="455.2" cy="292.5" r="1.65"/>
<circle cx="442.6" cy="294.3" r="1.65"/>
<circle cx="449.6" cy="292.5" r="1.65"/>
<circle cx="460.1" cy="293.2" r="1.65"/>
<circle cx="378.5" cy="292.7" r="1.65"/>
<circle cx="381.7" cy="303.2" r="1.65"/>
<circle cx="392.9" cy="303.2" r="1.65"/>
<circle cx="384.5" cy="292.0" r="1.65"/>
<circle cx="392.2" cy="313.7" r="1.65"/>
<circle cx="396.4" cy="317.5" r="1.65"/>
<circle cx="379.3" cy="315.1" r="1.65"/>
<circle cx="384.5" cy="317.5" r="1.65"/>
<circle cx="409.7" cy="313.0" r="1.65"/>
<circle cx="421.6" cy="313.7" r="1.65"/>
<circle cx="427.9" cy="312.3" r="1.65"/>
<circle cx="381.0" cy="327.3" r="1.65"/>
<circle cx="399.5" cy="312.3" r="1.65"/>
<circle cx="410.4" cy="298.3" r="1.65"/>
<circle cx="432.1" cy="300.7" r="1.65"/>
<circle cx="427.9" cy="296.2" r="1.65"/>
<circle cx="423.7" cy="294.5" r="1.65"/>
<circle cx="440.5" cy="303.2" r="1.65"/>
<circle cx="444.0" cy="306.0" r="1.65"/>
<circle cx="441.9" cy="318.6" r="1.65"/>
<circle cx="449.6" cy="311.6" r="1.65"/>
<circle cx="458.7" cy="310.2" r="1.65"/>
<circle cx="465.0" cy="308.8" r="1.65"/>
<circle cx="460.5" cy="317.5" r="1.65"/>
<circle cx="434.2" cy="319.3" r="1.65"/>
<circle cx="436.3" cy="332.6" r="1.65"/>
<circle cx="429.3" cy="346.6" r="1.65"/>
<circle cx="451.0" cy="331.2" r="1.65"/>
<circle cx="452.4" cy="343.5" r="1.65"/>
<circle cx="412.5" cy="319.3" r="1.65"/>
<circle cx="409.7" cy="329.8" r="1.65"/>
<circle cx="406.9" cy="330.1" r="1.65"/>
<circle cx="394.3" cy="332.6" r="1.65"/>
<circle cx="383.5" cy="333.3" r="1.65"/>
<circle cx="395.7" cy="336.5" r="1.65"/>
<circle cx="383.5" cy="343.5" r="1.65"/>
<circle cx="417.7" cy="334.0" r="1.65"/>
<circle cx="419.5" cy="343.5" r="1.65"/>
<circle cx="427.9" cy="325.6" r="1.65"/>
<circle cx="413.2" cy="329.5" r="1.65"/>
<circle cx="422.3" cy="324.5" r="1.65"/>
<circle cx="429.3" cy="337.5" r="1.65"/>
<circle cx="434.2" cy="335.4" r="1.65"/>
<circle cx="232.6" cy="178.6" r="1.65"/>
<circle cx="240.7" cy="178.9" r="1.65"/>
<circle cx="258.6" cy="190.7" r="1.65"/>
<circle cx="255.5" cy="170.2" r="1.65"/>
<circle cx="252.6" cy="181.4" r="1.65"/>
<circle cx="281.7" cy="203.2" r="1.65"/>
<circle cx="286.0" cy="204.6" r="1.65"/>
<circle cx="308.3" cy="211.8" r="1.65"/>
<circle cx="303.2" cy="228.9" r="1.65"/>
<circle cx="328.1" cy="221.2" r="1.65"/>
<circle cx="350.4" cy="217.8" r="1.65"/>
<circle cx="349.2" cy="234.1" r="1.65"/>
<circle cx="351.2" cy="183.5" r="1.65"/>
<circle cx="386.3" cy="224.6" r="1.65"/>
<circle cx="395.8" cy="244.4" r="1.65"/>
<circle cx="400.9" cy="241.8" r="1.65"/>
<circle cx="412.9" cy="205.8" r="1.65"/>
<circle cx="279.4" cy="92.6" r="1.65"/>
<circle cx="282.9" cy="92.6" r="1.65"/>
<circle cx="350.8" cy="63.9" r="1.65"/>
<circle cx="308.8" cy="113.2" r="1.65"/>
<circle cx="297.6" cy="97.1" r="1.65"/>
<circle cx="341.7" cy="95.7" r="1.65"/>
<circle cx="343.8" cy="96.7" r="1.65"/>
<circle cx="356.4" cy="132.8" r="1.65"/>
<circle cx="378.5" cy="292.5" r="1.65"/>
<circle cx="423.0" cy="293.9" r="1.65"/>
<circle cx="445.4" cy="240.7" r="1.65"/>
<circle cx="427.2" cy="247.3" r="1.65"/>
<circle cx="413.5" cy="300.4" r="1.65"/>
<circle cx="425.1" cy="309.5" r="1.65"/>
<circle cx="447.5" cy="343.5" r="1.65"/>
<circle cx="453.5" cy="331.5" r="1.65"/>
<circle cx="435.6" cy="343.1" r="1.65"/>
<circle cx="463.6" cy="299.0" r="1.65"/>
<circle cx="463.6" cy="333.3" r="1.65"/>
</g>
<polyline points="203.8,95.1 203.8,103.1 215.1,134.6 205.7,154.3 197.1,164.2 213.1,177.9 247.7,174.9 263.5,170.9 279.4,175.8 272.8,190.6 273.5,203.8 289.3,209.8 305.0,206.4 332.0,226.0 345.6,233.0 354.0,219.4 369.0,227.0 379.8,218.0 395.0,221.0 392.5,237.0 407.0,237.0 423.0,255.0 422.0,262.0 440.0,271.0 445.5,278.2 455.0,280.0 468.0,290.0 479.5,296.5 488.0,308.0 504.0,319.0 515.0,329.6 530.0,335.8 528.3,370.3 517.7,383.1 517.7,399.4 525.3,415.5" fill="none" stroke="#ff0000" stroke-width="3.4" stroke-linejoin="round" stroke-linecap="butt"/>
<text x="363.1" y="31.8" text-anchor="middle" font-size="17.8" font-weight="bold" textLength="140.8" lengthAdjust="spacing" style="fill:#000">Occupancy Grid</text>
<text x="148.8" y="489.8" text-anchor="middle" font-size="16.3">0</text>
<text x="141.6" y="472.8" text-anchor="end" font-size="16.3">0</text>
<text x="234.4" y="489.8" text-anchor="middle" font-size="16.3">5</text>
<text x="141.6" y="387.2" text-anchor="end" font-size="16.3">5</text>
<text x="320.0" y="489.8" text-anchor="middle" font-size="16.3">10</text>
<text x="141.6" y="301.6" text-anchor="end" font-size="16.3">10</text>
<text x="405.6" y="489.8" text-anchor="middle" font-size="16.3">15</text>
<text x="141.6" y="216.0" text-anchor="end" font-size="16.3">15</text>
<text x="491.2" y="489.8" text-anchor="middle" font-size="16.3">20</text>
<text x="141.6" y="130.4" text-anchor="end" font-size="16.3">20</text>
<text x="576.8" y="489.8" text-anchor="middle" font-size="16.3">25</text>
<text x="141.6" y="44.8" text-anchor="end" font-size="16.3">25</text>
<text x="363.2" y="512.4" text-anchor="middle" font-size="18" textLength="83" lengthAdjust="spacing">X [meters]</text>
<text transform="translate(114.3,252.9) rotate(-90)" text-anchor="middle" font-size="18" textLength="83" lengthAdjust="spacing">Y [meters]</text>
<g>
<rect x="357.5" y="52.5" width="205" height="81" fill="#fff" stroke="#262626" stroke-width="1"/>
<circle cx="385.4" cy="63.6" r="4.9" fill="#00ff00"/>
<circle cx="385.4" cy="83.4" r="4.9" fill="#ff0000"/>
<line x1="360.6" y1="102.5" x2="410.6" y2="102.5" stroke="#00ffff" stroke-width="1"/><circle cx="385.4" cy="102.5" r="1.65" fill="#00ffff"/>
<line x1="360.6" y1="122" x2="410.6" y2="122" stroke="#ff0000" stroke-width="3.3"/>
<text x="414.9" y="69.6" font-size="14.9">Start Pose</text>
<text x="414.9" y="88.9" font-size="14.9">Goal Pose</text>
<text x="414.9" y="108.2" font-size="14.9">Tree expansion</text>
<text x="414.9" y="127.5" font-size="14.9">MEX Generated Path</text>
</g>
</svg>
</body></html>
